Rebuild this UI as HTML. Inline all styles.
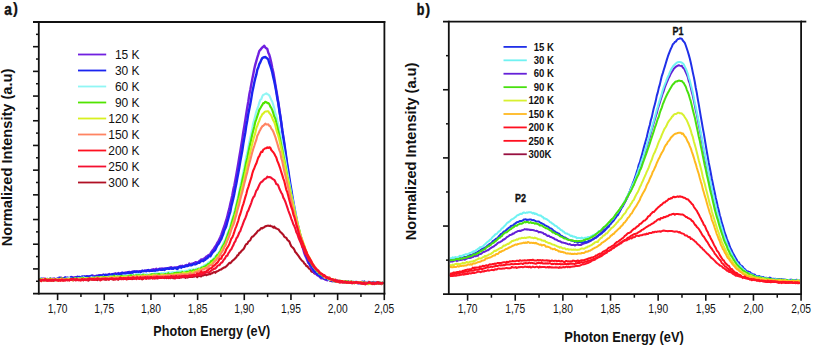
<!DOCTYPE html>
<html><head><meta charset="utf-8"><style>
html,body{margin:0;padding:0;background:#fff;}
svg{display:block;}
text{font-family:"Liberation Sans",sans-serif;}
</style></head><body>
<svg width="813" height="347" viewBox="0 0 813 347">
<rect width="813" height="347" fill="#fff"/>
<path d="M39.3,280.2 L40.3,280.3 L41.3,280.0 L42.3,279.8 L43.3,279.9 L44.3,279.7 L45.3,280.2 L46.3,280.7 L47.3,279.9 L48.3,279.9 L49.3,280.3 L50.3,280.3 L51.3,280.2 L52.3,279.7 L53.3,280.1 L54.3,280.4 L55.3,279.5 L56.3,279.9 L57.3,279.2 L58.3,279.5 L59.3,279.2 L60.3,279.9 L61.3,279.5 L62.3,280.2 L63.3,280.1 L64.3,279.9 L65.3,278.9 L66.3,279.7 L67.3,280.0 L68.3,280.0 L69.3,279.3 L70.3,279.7 L71.3,279.5 L72.3,279.6 L73.3,280.4 L74.3,279.5 L75.3,279.9 L76.3,280.3 L77.3,279.6 L78.3,279.8 L79.3,279.9 L80.3,279.8 L81.3,279.2 L82.3,279.8 L83.3,280.4 L84.3,279.0 L85.3,280.1 L86.3,279.8 L87.3,279.4 L88.3,280.6 L89.3,280.0 L90.3,279.1 L91.3,279.6 L92.3,279.8 L93.3,279.5 L94.3,279.9 L95.3,279.5 L96.3,279.8 L97.3,280.1 L98.3,279.2 L99.3,279.5 L100.3,279.2 L101.3,279.4 L102.3,278.8 L103.3,279.1 L104.3,279.2 L105.3,279.7 L106.3,279.8 L107.3,278.7 L108.3,278.9 L109.3,279.5 L110.3,278.3 L111.3,278.9 L112.3,279.1 L113.3,279.7 L114.3,279.4 L115.3,278.9 L116.3,278.9 L117.3,278.9 L118.3,279.7 L119.3,278.8 L120.3,278.8 L121.3,279.1 L122.3,278.8 L123.3,278.8 L124.3,278.3 L125.3,278.8 L126.3,278.6 L127.3,279.3 L128.3,279.0 L129.3,278.7 L130.3,279.0 L131.3,278.5 L132.3,279.1 L133.3,278.6 L134.3,278.8 L135.3,278.0 L136.3,278.7 L137.3,277.7 L138.3,277.5 L139.3,278.3 L140.3,278.0 L141.3,278.5 L142.3,279.4 L143.3,278.0 L144.3,278.0 L145.3,278.4 L146.3,278.5 L147.3,278.2 L148.3,278.1 L149.3,278.5 L150.3,278.4 L151.3,277.7 L152.3,278.1 L153.3,278.1 L154.3,277.6 L155.3,278.2 L156.3,277.7 L157.3,278.5 L158.3,278.1 L159.3,278.0 L160.3,277.7 L161.3,277.9 L162.3,277.0 L163.3,277.4 L164.3,278.1 L165.3,276.9 L166.3,278.2 L167.3,277.0 L168.3,278.2 L169.3,277.4 L170.3,278.1 L171.3,277.8 L172.3,277.0 L173.3,278.3 L174.3,278.3 L175.3,277.6 L176.3,277.5 L177.3,277.5 L178.3,277.1 L179.3,278.0 L180.3,277.3 L181.3,277.5 L182.3,277.1 L183.3,277.1 L184.3,276.8 L185.3,277.9 L186.3,277.2 L187.3,277.6 L188.3,277.2 L189.3,276.8 L190.3,276.9 L191.3,276.7 L192.3,276.9 L193.3,276.6 L194.3,276.6 L195.3,276.0 L196.3,276.2 L197.3,277.2 L198.3,276.0 L199.3,275.7 L200.3,276.2 L201.3,276.5 L202.3,275.1 L203.3,275.4 L204.3,275.1 L205.3,274.4 L206.3,275.3 L207.3,274.7 L208.3,274.5 L209.3,273.9 L210.3,274.1 L211.3,273.4 L212.3,273.2 L213.3,272.4 L214.3,272.0 L215.3,272.8 L216.3,271.5 L217.3,271.4 L218.3,270.8 L219.3,270.1 L220.3,269.6 L221.3,269.5 L222.3,268.5 L223.3,268.0 L224.3,267.4 L225.3,267.2 L226.3,266.3 L227.3,265.4 L228.3,264.1 L229.3,262.9 L230.3,263.1 L231.3,262.2 L232.3,260.8 L233.3,260.1 L234.3,259.2 L235.3,258.2 L236.3,257.2 L237.3,255.4 L238.3,255.2 L239.3,252.8 L240.3,252.6 L241.3,251.2 L242.3,250.1 L243.3,249.4 L244.3,247.9 L245.3,245.5 L246.3,244.0 L247.3,243.9 L248.3,241.8 L249.3,241.0 L250.3,240.2 L251.3,237.9 L252.3,236.5 L253.3,236.4 L254.3,235.2 L255.3,234.0 L256.3,233.1 L257.3,231.7 L258.3,230.5 L259.3,230.3 L260.3,229.1 L261.3,228.1 L262.3,228.4 L263.3,227.6 L264.3,227.3 L265.3,226.3 L266.3,226.1 L267.3,225.7 L268.3,225.6 L269.3,226.0 L270.3,225.6 L271.3,226.3 L272.3,226.5 L273.3,227.6 L274.3,226.5 L275.3,228.1 L276.3,228.3 L277.3,229.0 L278.3,229.2 L279.3,230.5 L280.3,232.0 L281.3,232.7 L282.3,233.8 L283.3,234.8 L284.3,236.7 L285.3,237.4 L286.3,237.7 L287.3,239.8 L288.3,240.6 L289.3,241.4 L290.3,244.0 L291.3,246.3 L292.3,247.2 L293.3,248.1 L294.3,249.6 L295.3,252.0 L296.3,253.0 L297.3,254.3 L298.3,255.7 L299.3,257.1 L300.3,258.7 L301.3,259.9 L302.3,261.0 L303.3,261.7 L304.3,263.6 L305.3,264.2 L306.3,266.1 L307.3,266.1 L308.3,267.6 L309.3,268.7 L310.3,269.0 L311.3,271.3 L312.3,272.0 L313.3,271.9 L314.3,273.3 L315.3,273.8 L316.3,273.1 L317.3,275.1 L318.3,275.5 L319.3,276.1 L320.3,276.2 L321.3,277.0 L322.3,277.5 L323.3,278.6 L324.3,278.6 L325.3,278.8 L326.3,279.8 L327.3,279.2 L328.3,279.6 L329.3,279.2 L330.3,281.0 L331.3,280.9 L332.3,281.1 L333.3,281.2 L334.3,281.2 L335.3,281.4 L336.3,281.3 L337.3,281.5 L338.3,281.7 L339.3,282.5 L340.3,282.2 L341.3,282.0 L342.3,281.9 L343.3,281.9 L344.3,283.0 L345.3,282.6 L346.3,282.5 L347.3,282.3 L348.3,282.1 L349.3,282.6 L350.3,283.0 L351.3,282.5 L352.3,282.6 L353.3,282.7 L354.3,282.9 L355.3,282.1 L356.3,282.8 L357.3,282.5 L358.3,283.3 L359.3,282.6 L360.3,283.3 L361.3,283.7 L362.3,282.9 L363.3,282.8 L364.3,283.2 L365.3,283.1 L366.3,282.7 L367.3,283.3 L368.3,284.1 L369.3,283.1 L370.3,283.1 L371.3,282.7 L372.3,283.4 L373.3,282.7 L374.3,282.8 L375.3,283.8 L376.3,282.9 L377.3,283.8 L378.3,284.0 L379.3,283.4 L380.3,283.6 L381.3,284.2 L382.3,283.3 L383.3,283.1" fill="none" stroke="#b01024" stroke-width="2.1" stroke-linejoin="round"/>
<path d="M39.3,278.7 L40.3,279.3 L41.3,279.9 L42.3,279.7 L43.3,278.8 L44.3,278.8 L45.3,278.9 L46.3,279.3 L47.3,279.0 L48.3,279.1 L49.3,279.1 L50.3,278.8 L51.3,278.9 L52.3,279.0 L53.3,278.8 L54.3,279.0 L55.3,279.6 L56.3,279.0 L57.3,278.7 L58.3,277.9 L59.3,278.7 L60.3,277.6 L61.3,277.8 L62.3,278.8 L63.3,278.7 L64.3,278.2 L65.3,277.5 L66.3,278.0 L67.3,277.8 L68.3,278.4 L69.3,279.0 L70.3,278.1 L71.3,277.5 L72.3,277.3 L73.3,277.7 L74.3,277.6 L75.3,277.1 L76.3,277.6 L77.3,277.0 L78.3,277.9 L79.3,277.8 L80.3,277.8 L81.3,277.0 L82.3,277.4 L83.3,277.0 L84.3,276.8 L85.3,276.7 L86.3,276.2 L87.3,276.1 L88.3,277.0 L89.3,276.5 L90.3,276.6 L91.3,276.8 L92.3,275.5 L93.3,275.8 L94.3,276.2 L95.3,276.2 L96.3,275.8 L97.3,276.3 L98.3,275.8 L99.3,275.1 L100.3,275.1 L101.3,275.8 L102.3,275.6 L103.3,274.4 L104.3,275.8 L105.3,275.3 L106.3,275.6 L107.3,274.7 L108.3,274.6 L109.3,274.1 L110.3,275.7 L111.3,274.4 L112.3,275.0 L113.3,273.9 L114.3,274.2 L115.3,273.3 L116.3,273.7 L117.3,274.2 L118.3,273.1 L119.3,274.1 L120.3,273.6 L121.3,272.9 L122.3,273.0 L123.3,272.9 L124.3,273.0 L125.3,272.7 L126.3,272.4 L127.3,272.6 L128.3,272.1 L129.3,271.9 L130.3,272.4 L131.3,272.7 L132.3,271.5 L133.3,272.1 L134.3,271.7 L135.3,271.4 L136.3,272.1 L137.3,271.4 L138.3,272.2 L139.3,271.1 L140.3,271.5 L141.3,271.1 L142.3,270.8 L143.3,271.3 L144.3,270.8 L145.3,271.0 L146.3,270.7 L147.3,270.1 L148.3,270.4 L149.3,270.4 L150.3,270.7 L151.3,269.8 L152.3,270.0 L153.3,269.2 L154.3,270.1 L155.3,269.3 L156.3,268.8 L157.3,269.5 L158.3,269.9 L159.3,268.7 L160.3,268.7 L161.3,268.8 L162.3,268.5 L163.3,269.1 L164.3,268.5 L165.3,268.4 L166.3,268.9 L167.3,268.1 L168.3,268.6 L169.3,267.8 L170.3,267.6 L171.3,267.2 L172.3,268.7 L173.3,267.6 L174.3,267.7 L175.3,267.5 L176.3,267.4 L177.3,267.2 L178.3,267.9 L179.3,266.4 L180.3,266.0 L181.3,266.1 L182.3,265.8 L183.3,266.5 L184.3,266.4 L185.3,265.4 L186.3,265.0 L187.3,265.2 L188.3,265.7 L189.3,263.6 L190.3,264.8 L191.3,263.8 L192.3,264.5 L193.3,263.2 L194.3,263.2 L195.3,262.3 L196.3,262.2 L197.3,262.8 L198.3,262.2 L199.3,261.1 L200.3,260.4 L201.3,259.4 L202.3,259.6 L203.3,259.1 L204.3,258.4 L205.3,257.7 L206.3,256.5 L207.3,256.1 L208.3,255.3 L209.3,254.9 L210.3,254.1 L211.3,252.1 L212.3,250.6 L213.3,249.6 L214.3,248.0 L215.3,246.4 L216.3,245.0 L217.3,242.8 L218.3,241.6 L219.3,239.2 L220.3,237.2 L221.3,234.6 L222.3,231.8 L223.3,228.9 L224.3,226.3 L225.3,223.0 L226.3,220.0 L227.3,216.4 L228.3,212.0 L229.3,208.7 L230.3,203.8 L231.3,199.7 L232.3,195.2 L233.3,189.6 L234.3,185.5 L235.3,180.3 L236.3,174.7 L237.3,168.9 L238.3,163.1 L239.3,156.9 L240.3,151.2 L241.3,144.9 L242.3,138.9 L243.3,132.0 L244.3,126.3 L245.3,119.9 L246.3,113.5 L247.3,107.2 L248.3,101.5 L249.3,94.6 L250.3,89.8 L251.3,84.1 L252.3,78.9 L253.3,73.9 L254.3,68.8 L255.3,64.6 L256.3,61.1 L257.3,57.5 L258.3,54.4 L259.3,51.0 L260.3,49.9 L261.3,48.6 L262.3,47.5 L263.3,46.6 L264.3,45.8 L265.3,47.5 L266.3,48.2 L267.3,49.0 L268.3,52.7 L269.3,54.8 L270.3,58.4 L271.3,62.7 L272.3,68.0 L273.3,72.2 L274.3,77.9 L275.3,84.3 L276.3,90.3 L277.3,95.9 L278.3,102.5 L279.3,108.9 L280.3,116.1 L281.3,123.7 L282.3,130.9 L283.3,138.1 L284.3,145.7 L285.3,152.1 L286.3,159.6 L287.3,167.0 L288.3,173.8 L289.3,180.8 L290.3,187.0 L291.3,193.1 L292.3,199.5 L293.3,204.8 L294.3,210.1 L295.3,216.5 L296.3,221.4 L297.3,226.4 L298.3,230.0 L299.3,234.9 L300.3,238.9 L301.3,242.5 L302.3,245.4 L303.3,249.5 L304.3,253.1 L305.3,255.7 L306.3,257.8 L307.3,260.4 L308.3,262.9 L309.3,263.3 L310.3,266.3 L311.3,268.2 L312.3,269.7 L313.3,271.5 L314.3,272.4 L315.3,273.1 L316.3,274.1 L317.3,275.2 L318.3,275.4 L319.3,276.3 L320.3,277.3 L321.3,278.3 L322.3,277.9 L323.3,278.3 L324.3,278.8 L325.3,279.7 L326.3,279.4 L327.3,280.3 L328.3,279.5 L329.3,280.0 L330.3,280.2 L331.3,280.8 L332.3,281.1 L333.3,280.1 L334.3,280.5 L335.3,281.2 L336.3,280.8 L337.3,280.5 L338.3,281.8 L339.3,281.6 L340.3,281.7 L341.3,281.3 L342.3,282.1 L343.3,281.6 L344.3,282.2 L345.3,281.4 L346.3,281.5 L347.3,282.0 L348.3,281.6 L349.3,282.3 L350.3,282.2 L351.3,281.7 L352.3,282.2 L353.3,282.0 L354.3,282.6 L355.3,282.0 L356.3,282.1 L357.3,282.9 L358.3,283.4 L359.3,283.3 L360.3,282.5 L361.3,282.6 L362.3,283.2 L363.3,282.5 L364.3,282.2 L365.3,282.7 L366.3,282.9 L367.3,282.3 L368.3,282.0 L369.3,282.1 L370.3,283.1 L371.3,282.5 L372.3,282.8 L373.3,283.0 L374.3,283.2 L375.3,282.8 L376.3,283.2 L377.3,282.6 L378.3,282.9 L379.3,282.6 L380.3,283.6 L381.3,283.1 L382.3,282.8 L383.3,283.0" fill="none" stroke="#7020e0" stroke-width="2.4" stroke-linejoin="round"/>
<path d="M39.3,279.3 L40.3,279.7 L41.3,278.6 L42.3,278.8 L43.3,279.1 L44.3,280.4 L45.3,279.6 L46.3,279.1 L47.3,279.5 L48.3,280.0 L49.3,279.0 L50.3,278.9 L51.3,279.5 L52.3,279.2 L53.3,279.2 L54.3,278.7 L55.3,279.7 L56.3,279.6 L57.3,279.0 L58.3,279.0 L59.3,277.7 L60.3,278.9 L61.3,278.5 L62.3,278.7 L63.3,278.8 L64.3,278.3 L65.3,277.6 L66.3,278.5 L67.3,277.9 L68.3,278.0 L69.3,277.9 L70.3,277.9 L71.3,277.0 L72.3,278.5 L73.3,278.0 L74.3,278.3 L75.3,278.7 L76.3,277.7 L77.3,276.8 L78.3,277.2 L79.3,276.9 L80.3,277.2 L81.3,277.4 L82.3,276.4 L83.3,277.4 L84.3,276.4 L85.3,277.2 L86.3,276.9 L87.3,276.7 L88.3,276.8 L89.3,276.5 L90.3,276.4 L91.3,275.8 L92.3,276.5 L93.3,277.2 L94.3,277.2 L95.3,276.8 L96.3,276.5 L97.3,275.7 L98.3,276.6 L99.3,275.8 L100.3,275.7 L101.3,275.5 L102.3,275.6 L103.3,275.3 L104.3,275.4 L105.3,274.8 L106.3,275.0 L107.3,276.1 L108.3,275.0 L109.3,274.8 L110.3,275.0 L111.3,275.0 L112.3,274.1 L113.3,274.4 L114.3,274.8 L115.3,274.4 L116.3,274.3 L117.3,274.8 L118.3,273.7 L119.3,273.9 L120.3,273.6 L121.3,274.4 L122.3,272.7 L123.3,273.2 L124.3,273.1 L125.3,273.6 L126.3,273.4 L127.3,273.7 L128.3,272.2 L129.3,273.2 L130.3,272.6 L131.3,272.3 L132.3,272.8 L133.3,272.0 L134.3,271.4 L135.3,272.1 L136.3,271.4 L137.3,271.7 L138.3,272.1 L139.3,272.0 L140.3,272.4 L141.3,271.5 L142.3,270.8 L143.3,271.1 L144.3,270.9 L145.3,270.7 L146.3,271.3 L147.3,270.7 L148.3,270.0 L149.3,271.1 L150.3,270.7 L151.3,270.8 L152.3,270.6 L153.3,270.7 L154.3,270.4 L155.3,270.8 L156.3,270.3 L157.3,270.2 L158.3,270.1 L159.3,269.2 L160.3,269.7 L161.3,269.6 L162.3,269.7 L163.3,268.9 L164.3,270.1 L165.3,269.3 L166.3,268.6 L167.3,268.3 L168.3,268.8 L169.3,268.8 L170.3,268.4 L171.3,268.7 L172.3,268.2 L173.3,268.7 L174.3,268.0 L175.3,268.1 L176.3,268.5 L177.3,269.1 L178.3,267.3 L179.3,267.4 L180.3,267.1 L181.3,267.7 L182.3,266.6 L183.3,266.8 L184.3,266.8 L185.3,266.2 L186.3,266.0 L187.3,266.0 L188.3,265.1 L189.3,265.1 L190.3,265.3 L191.3,265.3 L192.3,264.9 L193.3,263.9 L194.3,264.2 L195.3,264.4 L196.3,264.0 L197.3,263.3 L198.3,262.6 L199.3,262.8 L200.3,261.8 L201.3,261.1 L202.3,260.7 L203.3,261.2 L204.3,260.0 L205.3,259.8 L206.3,258.4 L207.3,258.3 L208.3,256.8 L209.3,256.1 L210.3,256.4 L211.3,254.6 L212.3,252.9 L213.3,251.9 L214.3,250.8 L215.3,249.8 L216.3,247.6 L217.3,245.4 L218.3,244.3 L219.3,242.6 L220.3,240.6 L221.3,239.0 L222.3,236.3 L223.3,234.0 L224.3,230.5 L225.3,228.5 L226.3,226.0 L227.3,222.2 L228.3,218.6 L229.3,214.9 L230.3,211.8 L231.3,206.5 L232.3,202.6 L233.3,198.4 L234.3,193.9 L235.3,188.5 L236.3,183.8 L237.3,178.3 L238.3,173.1 L239.3,167.5 L240.3,161.3 L241.3,156.1 L242.3,150.6 L243.3,143.8 L244.3,138.1 L245.3,132.5 L246.3,125.7 L247.3,120.3 L248.3,113.9 L249.3,109.1 L250.3,104.0 L251.3,98.4 L252.3,92.1 L253.3,87.6 L254.3,82.6 L255.3,78.2 L256.3,74.7 L257.3,69.8 L258.3,67.5 L259.3,64.2 L260.3,62.4 L261.3,59.9 L262.3,58.1 L263.3,57.5 L264.3,57.3 L265.3,57.0 L266.3,57.8 L267.3,58.5 L268.3,59.6 L269.3,63.2 L270.3,65.9 L271.3,69.0 L272.3,72.7 L273.3,77.4 L274.3,81.4 L275.3,86.4 L276.3,92.1 L277.3,98.4 L278.3,103.3 L279.3,110.7 L280.3,116.3 L281.3,122.7 L282.3,130.5 L283.3,136.7 L284.3,143.0 L285.3,150.3 L286.3,157.7 L287.3,164.6 L288.3,170.5 L289.3,177.4 L290.3,183.9 L291.3,189.6 L292.3,196.0 L293.3,201.7 L294.3,207.1 L295.3,212.4 L296.3,217.8 L297.3,222.7 L298.3,227.0 L299.3,231.5 L300.3,236.3 L301.3,239.7 L302.3,243.7 L303.3,247.2 L304.3,250.1 L305.3,253.7 L306.3,255.0 L307.3,258.3 L308.3,260.0 L309.3,263.1 L310.3,265.0 L311.3,265.1 L312.3,267.1 L313.3,269.3 L314.3,270.7 L315.3,271.9 L316.3,272.6 L317.3,273.8 L318.3,274.8 L319.3,275.2 L320.3,276.4 L321.3,275.6 L322.3,277.4 L323.3,277.2 L324.3,278.5 L325.3,278.4 L326.3,278.5 L327.3,279.4 L328.3,279.1 L329.3,279.3 L330.3,279.3 L331.3,280.2 L332.3,280.6 L333.3,281.0 L334.3,280.6 L335.3,281.3 L336.3,281.0 L337.3,281.1 L338.3,281.5 L339.3,281.8 L340.3,281.2 L341.3,281.4 L342.3,281.5 L343.3,281.7 L344.3,281.3 L345.3,282.2 L346.3,281.7 L347.3,282.1 L348.3,281.6 L349.3,282.2 L350.3,282.2 L351.3,281.9 L352.3,283.1 L353.3,282.4 L354.3,283.0 L355.3,282.7 L356.3,282.0 L357.3,282.2 L358.3,282.6 L359.3,282.5 L360.3,282.5 L361.3,282.4 L362.3,281.7 L363.3,282.5 L364.3,281.6 L365.3,282.8 L366.3,282.4 L367.3,282.4 L368.3,282.7 L369.3,282.9 L370.3,282.2 L371.3,282.1 L372.3,282.4 L373.3,282.0 L374.3,282.5 L375.3,283.7 L376.3,282.5 L377.3,283.3 L378.3,282.4 L379.3,283.2 L380.3,282.9 L381.3,283.1 L382.3,283.4 L383.3,283.9" fill="none" stroke="#1a24f0" stroke-width="2.4" stroke-linejoin="round"/>
<path d="M39.3,279.8 L40.3,279.8 L41.3,279.3 L42.3,279.9 L43.3,279.6 L44.3,280.0 L45.3,279.6 L46.3,280.4 L47.3,278.7 L48.3,279.4 L49.3,279.9 L50.3,279.4 L51.3,279.1 L52.3,279.4 L53.3,278.8 L54.3,279.5 L55.3,280.5 L56.3,279.9 L57.3,278.8 L58.3,278.9 L59.3,279.1 L60.3,279.7 L61.3,278.8 L62.3,278.9 L63.3,279.6 L64.3,279.5 L65.3,278.9 L66.3,278.5 L67.3,278.3 L68.3,278.7 L69.3,277.9 L70.3,279.2 L71.3,278.6 L72.3,279.0 L73.3,279.6 L74.3,279.3 L75.3,278.2 L76.3,279.0 L77.3,279.1 L78.3,278.2 L79.3,278.1 L80.3,278.4 L81.3,277.7 L82.3,279.0 L83.3,277.3 L84.3,277.8 L85.3,278.1 L86.3,278.1 L87.3,278.2 L88.3,278.2 L89.3,277.9 L90.3,278.5 L91.3,277.0 L92.3,277.9 L93.3,277.5 L94.3,277.8 L95.3,277.8 L96.3,277.2 L97.3,277.3 L98.3,277.9 L99.3,277.6 L100.3,277.1 L101.3,278.2 L102.3,278.3 L103.3,276.5 L104.3,277.3 L105.3,278.2 L106.3,277.4 L107.3,277.0 L108.3,276.8 L109.3,276.6 L110.3,276.7 L111.3,276.4 L112.3,277.0 L113.3,276.4 L114.3,276.3 L115.3,275.9 L116.3,276.3 L117.3,275.9 L118.3,276.1 L119.3,276.6 L120.3,276.2 L121.3,276.2 L122.3,276.1 L123.3,275.9 L124.3,275.7 L125.3,275.6 L126.3,276.0 L127.3,275.1 L128.3,276.1 L129.3,275.5 L130.3,275.0 L131.3,275.1 L132.3,274.9 L133.3,275.2 L134.3,274.8 L135.3,275.5 L136.3,274.6 L137.3,273.9 L138.3,274.5 L139.3,273.9 L140.3,274.7 L141.3,275.1 L142.3,274.8 L143.3,273.9 L144.3,274.1 L145.3,275.2 L146.3,274.4 L147.3,274.2 L148.3,274.6 L149.3,275.2 L150.3,274.6 L151.3,274.0 L152.3,274.1 L153.3,274.1 L154.3,273.5 L155.3,273.2 L156.3,273.7 L157.3,273.2 L158.3,273.5 L159.3,273.5 L160.3,274.4 L161.3,272.9 L162.3,273.2 L163.3,273.1 L164.3,273.3 L165.3,273.5 L166.3,272.8 L167.3,272.5 L168.3,272.1 L169.3,272.3 L170.3,272.9 L171.3,272.6 L172.3,272.1 L173.3,272.3 L174.3,272.4 L175.3,272.5 L176.3,271.9 L177.3,272.0 L178.3,271.2 L179.3,271.3 L180.3,272.5 L181.3,270.7 L182.3,271.4 L183.3,271.5 L184.3,271.1 L185.3,270.7 L186.3,270.9 L187.3,270.8 L188.3,270.6 L189.3,269.6 L190.3,270.2 L191.3,269.6 L192.3,269.5 L193.3,269.7 L194.3,269.6 L195.3,269.4 L196.3,268.5 L197.3,268.9 L198.3,268.6 L199.3,268.3 L200.3,268.0 L201.3,266.9 L202.3,266.5 L203.3,266.5 L204.3,265.0 L205.3,265.1 L206.3,264.2 L207.3,263.7 L208.3,262.4 L209.3,262.0 L210.3,261.6 L211.3,261.2 L212.3,260.4 L213.3,258.9 L214.3,257.8 L215.3,256.4 L216.3,255.7 L217.3,254.1 L218.3,253.1 L219.3,252.1 L220.3,249.6 L221.3,247.2 L222.3,245.6 L223.3,243.3 L224.3,241.3 L225.3,240.1 L226.3,237.2 L227.3,233.8 L228.3,232.0 L229.3,229.4 L230.3,225.6 L231.3,222.2 L232.3,218.9 L233.3,215.6 L234.3,212.0 L235.3,208.4 L236.3,204.3 L237.3,200.1 L238.3,195.8 L239.3,191.0 L240.3,185.4 L241.3,181.3 L242.3,176.7 L243.3,171.6 L244.3,167.2 L245.3,161.7 L246.3,156.4 L247.3,152.6 L248.3,147.3 L249.3,142.2 L250.3,137.8 L251.3,133.2 L252.3,128.3 L253.3,122.7 L254.3,119.4 L255.3,115.6 L256.3,111.6 L257.3,108.8 L258.3,106.1 L259.3,102.6 L260.3,99.8 L261.3,99.2 L262.3,96.3 L263.3,94.7 L264.3,94.4 L265.3,93.9 L266.3,93.3 L267.3,94.3 L268.3,94.5 L269.3,95.5 L270.3,97.6 L271.3,100.0 L272.3,101.8 L273.3,105.1 L274.3,108.2 L275.3,113.1 L276.3,115.4 L277.3,120.5 L278.3,124.4 L279.3,129.0 L280.3,134.3 L281.3,139.5 L282.3,144.9 L283.3,149.8 L284.3,154.9 L285.3,160.4 L286.3,166.3 L287.3,171.9 L288.3,177.7 L289.3,182.7 L290.3,188.3 L291.3,193.8 L292.3,198.3 L293.3,202.6 L294.3,207.6 L295.3,212.2 L296.3,218.0 L297.3,221.3 L298.3,226.4 L299.3,230.1 L300.3,234.4 L301.3,237.7 L302.3,240.6 L303.3,243.7 L304.3,246.9 L305.3,249.7 L306.3,252.1 L307.3,254.8 L308.3,257.8 L309.3,258.5 L310.3,261.3 L311.3,262.7 L312.3,264.8 L313.3,266.7 L314.3,267.7 L315.3,269.4 L316.3,269.6 L317.3,271.9 L318.3,272.2 L319.3,273.7 L320.3,274.3 L321.3,273.8 L322.3,275.4 L323.3,276.4 L324.3,277.6 L325.3,277.6 L326.3,278.0 L327.3,277.7 L328.3,279.4 L329.3,279.9 L330.3,279.4 L331.3,279.6 L332.3,279.3 L333.3,280.6 L334.3,281.7 L335.3,281.0 L336.3,281.4 L337.3,281.2 L338.3,280.7 L339.3,281.9 L340.3,280.9 L341.3,281.4 L342.3,281.8 L343.3,282.1 L344.3,282.0 L345.3,282.1 L346.3,281.7 L347.3,281.5 L348.3,282.2 L349.3,281.9 L350.3,281.7 L351.3,281.7 L352.3,282.1 L353.3,281.6 L354.3,281.9 L355.3,281.8 L356.3,282.6 L357.3,282.8 L358.3,283.5 L359.3,282.0 L360.3,282.4 L361.3,283.1 L362.3,282.7 L363.3,282.6 L364.3,283.6 L365.3,282.7 L366.3,282.4 L367.3,282.3 L368.3,283.1 L369.3,283.1 L370.3,282.4 L371.3,282.6 L372.3,283.3 L373.3,283.3 L374.3,282.8 L375.3,283.4 L376.3,283.4 L377.3,282.3 L378.3,283.0 L379.3,283.4 L380.3,282.9 L381.3,282.3 L382.3,283.1 L383.3,283.6" fill="none" stroke="#90f6f4" stroke-width="2.1" stroke-linejoin="round"/>
<path d="M39.3,280.5 L40.3,278.8 L41.3,281.0 L42.3,279.3 L43.3,280.2 L44.3,280.3 L45.3,280.2 L46.3,279.8 L47.3,279.2 L48.3,280.0 L49.3,279.3 L50.3,278.5 L51.3,280.9 L52.3,279.9 L53.3,280.4 L54.3,279.1 L55.3,280.2 L56.3,280.2 L57.3,280.2 L58.3,279.5 L59.3,278.9 L60.3,279.3 L61.3,278.4 L62.3,278.6 L63.3,279.4 L64.3,278.9 L65.3,279.2 L66.3,279.2 L67.3,280.1 L68.3,279.8 L69.3,279.1 L70.3,279.7 L71.3,278.7 L72.3,278.9 L73.3,279.4 L74.3,278.4 L75.3,278.8 L76.3,278.3 L77.3,278.9 L78.3,279.6 L79.3,278.4 L80.3,278.8 L81.3,278.3 L82.3,278.1 L83.3,278.1 L84.3,279.2 L85.3,279.6 L86.3,278.7 L87.3,278.1 L88.3,278.7 L89.3,278.2 L90.3,278.7 L91.3,278.4 L92.3,278.3 L93.3,278.4 L94.3,277.8 L95.3,277.9 L96.3,277.2 L97.3,277.8 L98.3,277.3 L99.3,277.8 L100.3,277.4 L101.3,277.8 L102.3,277.9 L103.3,277.0 L104.3,277.2 L105.3,277.1 L106.3,277.8 L107.3,278.2 L108.3,277.7 L109.3,277.1 L110.3,277.9 L111.3,276.5 L112.3,277.8 L113.3,276.8 L114.3,275.7 L115.3,278.1 L116.3,277.6 L117.3,276.4 L118.3,276.8 L119.3,276.6 L120.3,276.7 L121.3,275.9 L122.3,276.2 L123.3,276.7 L124.3,276.5 L125.3,276.9 L126.3,276.3 L127.3,277.3 L128.3,275.8 L129.3,276.2 L130.3,275.2 L131.3,275.4 L132.3,276.5 L133.3,275.4 L134.3,276.0 L135.3,275.7 L136.3,275.2 L137.3,275.5 L138.3,275.3 L139.3,275.3 L140.3,275.8 L141.3,275.7 L142.3,275.1 L143.3,274.8 L144.3,275.3 L145.3,275.1 L146.3,275.5 L147.3,276.2 L148.3,275.3 L149.3,274.9 L150.3,274.8 L151.3,274.4 L152.3,274.3 L153.3,274.2 L154.3,274.4 L155.3,274.4 L156.3,274.8 L157.3,274.3 L158.3,274.3 L159.3,273.8 L160.3,275.0 L161.3,274.5 L162.3,275.0 L163.3,274.5 L164.3,274.7 L165.3,273.9 L166.3,274.2 L167.3,275.1 L168.3,273.2 L169.3,274.2 L170.3,274.4 L171.3,273.8 L172.3,273.8 L173.3,274.0 L174.3,273.0 L175.3,273.4 L176.3,272.8 L177.3,272.8 L178.3,272.7 L179.3,272.8 L180.3,272.8 L181.3,272.9 L182.3,271.9 L183.3,273.3 L184.3,272.8 L185.3,272.5 L186.3,271.8 L187.3,271.8 L188.3,271.9 L189.3,271.7 L190.3,270.5 L191.3,271.4 L192.3,272.2 L193.3,269.8 L194.3,270.8 L195.3,270.3 L196.3,269.8 L197.3,270.2 L198.3,268.7 L199.3,268.9 L200.3,269.2 L201.3,268.0 L202.3,267.5 L203.3,267.2 L204.3,266.5 L205.3,266.9 L206.3,265.2 L207.3,265.4 L208.3,263.7 L209.3,263.9 L210.3,262.8 L211.3,260.8 L212.3,261.1 L213.3,259.6 L214.3,258.9 L215.3,258.7 L216.3,256.2 L217.3,255.0 L218.3,254.7 L219.3,252.6 L220.3,251.7 L221.3,249.4 L222.3,247.0 L223.3,245.4 L224.3,243.9 L225.3,241.5 L226.3,238.7 L227.3,236.2 L228.3,233.4 L229.3,230.4 L230.3,228.6 L231.3,224.5 L232.3,220.7 L233.3,217.6 L234.3,214.5 L235.3,210.7 L236.3,206.4 L237.3,202.2 L238.3,198.3 L239.3,193.2 L240.3,189.0 L241.3,185.5 L242.3,180.3 L243.3,176.0 L244.3,171.7 L245.3,166.7 L246.3,161.7 L247.3,158.0 L248.3,152.6 L249.3,147.6 L250.3,143.6 L251.3,139.0 L252.3,134.2 L253.3,130.5 L254.3,126.5 L255.3,121.9 L256.3,119.3 L257.3,116.1 L258.3,113.1 L259.3,109.9 L260.3,108.3 L261.3,106.5 L262.3,104.9 L263.3,103.1 L264.3,103.1 L265.3,101.7 L266.3,102.1 L267.3,103.1 L268.3,103.0 L269.3,104.2 L270.3,106.5 L271.3,107.8 L272.3,110.2 L273.3,113.2 L274.3,116.6 L275.3,118.5 L276.3,122.8 L277.3,126.7 L278.3,130.9 L279.3,135.4 L280.3,140.1 L281.3,145.4 L282.3,149.8 L283.3,155.3 L284.3,160.5 L285.3,165.2 L286.3,170.8 L287.3,176.7 L288.3,181.2 L289.3,185.9 L290.3,191.2 L291.3,195.8 L292.3,201.2 L293.3,206.2 L294.3,210.0 L295.3,214.8 L296.3,219.7 L297.3,223.1 L298.3,227.3 L299.3,230.6 L300.3,234.3 L301.3,237.9 L302.3,242.3 L303.3,244.2 L304.3,247.1 L305.3,249.8 L306.3,252.5 L307.3,255.3 L308.3,257.3 L309.3,260.3 L310.3,261.4 L311.3,263.7 L312.3,264.9 L313.3,266.5 L314.3,267.0 L315.3,268.9 L316.3,270.2 L317.3,271.2 L318.3,271.4 L319.3,273.6 L320.3,273.9 L321.3,274.7 L322.3,275.5 L323.3,276.1 L324.3,277.0 L325.3,276.8 L326.3,277.4 L327.3,278.4 L328.3,278.8 L329.3,278.9 L330.3,279.1 L331.3,279.3 L332.3,279.9 L333.3,280.8 L334.3,280.0 L335.3,281.3 L336.3,281.2 L337.3,280.8 L338.3,281.5 L339.3,280.7 L340.3,280.7 L341.3,281.0 L342.3,281.5 L343.3,281.6 L344.3,281.7 L345.3,282.0 L346.3,281.1 L347.3,282.4 L348.3,281.6 L349.3,282.0 L350.3,282.1 L351.3,281.9 L352.3,281.8 L353.3,282.0 L354.3,282.5 L355.3,282.8 L356.3,282.9 L357.3,282.2 L358.3,282.3 L359.3,282.3 L360.3,283.0 L361.3,281.9 L362.3,283.4 L363.3,282.6 L364.3,282.5 L365.3,283.1 L366.3,283.4 L367.3,283.1 L368.3,283.4 L369.3,283.1 L370.3,283.6 L371.3,283.6 L372.3,283.0 L373.3,283.7 L374.3,283.2 L375.3,283.2 L376.3,282.7 L377.3,283.0 L378.3,283.5 L379.3,282.6 L380.3,283.5 L381.3,283.4 L382.3,283.4 L383.3,282.3" fill="none" stroke="#50e400" stroke-width="2.1" stroke-linejoin="round"/>
<path d="M39.3,279.9 L40.3,280.2 L41.3,279.5 L42.3,279.9 L43.3,278.8 L44.3,280.1 L45.3,279.5 L46.3,280.2 L47.3,279.0 L48.3,280.1 L49.3,279.7 L50.3,280.1 L51.3,279.3 L52.3,279.4 L53.3,280.7 L54.3,279.3 L55.3,279.4 L56.3,279.5 L57.3,279.2 L58.3,280.1 L59.3,280.4 L60.3,279.3 L61.3,278.8 L62.3,280.1 L63.3,280.0 L64.3,279.8 L65.3,280.0 L66.3,279.0 L67.3,279.3 L68.3,278.8 L69.3,278.7 L70.3,279.8 L71.3,279.0 L72.3,280.3 L73.3,279.3 L74.3,278.9 L75.3,279.5 L76.3,280.0 L77.3,279.3 L78.3,278.5 L79.3,279.2 L80.3,279.6 L81.3,278.8 L82.3,278.6 L83.3,279.4 L84.3,278.9 L85.3,278.3 L86.3,278.6 L87.3,278.4 L88.3,278.8 L89.3,278.7 L90.3,279.1 L91.3,278.9 L92.3,277.8 L93.3,278.7 L94.3,278.9 L95.3,278.6 L96.3,278.8 L97.3,278.1 L98.3,277.9 L99.3,278.7 L100.3,277.7 L101.3,277.2 L102.3,278.6 L103.3,277.7 L104.3,277.9 L105.3,277.3 L106.3,277.3 L107.3,277.3 L108.3,277.7 L109.3,277.9 L110.3,276.7 L111.3,278.0 L112.3,277.1 L113.3,277.1 L114.3,277.8 L115.3,277.4 L116.3,276.7 L117.3,278.2 L118.3,276.9 L119.3,277.4 L120.3,277.3 L121.3,277.8 L122.3,276.9 L123.3,277.5 L124.3,276.7 L125.3,277.5 L126.3,276.6 L127.3,276.7 L128.3,277.6 L129.3,276.9 L130.3,276.7 L131.3,277.6 L132.3,276.7 L133.3,276.2 L134.3,276.8 L135.3,275.9 L136.3,276.9 L137.3,276.9 L138.3,276.0 L139.3,275.9 L140.3,276.3 L141.3,276.1 L142.3,275.6 L143.3,276.3 L144.3,275.1 L145.3,275.7 L146.3,275.7 L147.3,275.7 L148.3,275.9 L149.3,275.2 L150.3,275.9 L151.3,275.5 L152.3,275.3 L153.3,274.9 L154.3,275.0 L155.3,275.6 L156.3,275.0 L157.3,275.4 L158.3,275.8 L159.3,275.7 L160.3,275.9 L161.3,275.0 L162.3,274.6 L163.3,275.5 L164.3,275.1 L165.3,275.4 L166.3,274.9 L167.3,275.4 L168.3,275.1 L169.3,275.0 L170.3,274.9 L171.3,274.7 L172.3,274.6 L173.3,274.5 L174.3,274.8 L175.3,274.1 L176.3,275.0 L177.3,274.1 L178.3,274.5 L179.3,273.9 L180.3,273.7 L181.3,274.7 L182.3,273.5 L183.3,272.9 L184.3,273.1 L185.3,273.1 L186.3,274.1 L187.3,273.1 L188.3,273.2 L189.3,272.2 L190.3,272.6 L191.3,272.6 L192.3,272.9 L193.3,271.5 L194.3,271.9 L195.3,271.5 L196.3,270.6 L197.3,270.8 L198.3,270.4 L199.3,269.1 L200.3,270.1 L201.3,269.7 L202.3,268.8 L203.3,268.0 L204.3,268.8 L205.3,267.7 L206.3,267.5 L207.3,267.1 L208.3,265.6 L209.3,265.5 L210.3,264.3 L211.3,263.6 L212.3,262.7 L213.3,261.8 L214.3,261.3 L215.3,259.8 L216.3,258.5 L217.3,257.3 L218.3,256.2 L219.3,254.3 L220.3,252.9 L221.3,251.5 L222.3,249.5 L223.3,247.9 L224.3,245.7 L225.3,244.8 L226.3,242.2 L227.3,239.4 L228.3,236.7 L229.3,235.1 L230.3,231.4 L231.3,228.3 L232.3,225.4 L233.3,222.1 L234.3,219.3 L235.3,215.1 L236.3,212.4 L237.3,207.3 L238.3,204.1 L239.3,199.3 L240.3,196.4 L241.3,191.2 L242.3,187.1 L243.3,183.1 L244.3,178.9 L245.3,173.4 L246.3,169.3 L247.3,164.3 L248.3,160.6 L249.3,156.1 L250.3,151.7 L251.3,147.4 L252.3,143.5 L253.3,139.4 L254.3,136.2 L255.3,133.1 L256.3,128.2 L257.3,125.9 L258.3,122.9 L259.3,120.7 L260.3,117.8 L261.3,116.2 L262.3,114.1 L263.3,113.5 L264.3,112.3 L265.3,111.5 L266.3,111.5 L267.3,111.3 L268.3,111.2 L269.3,113.0 L270.3,114.2 L271.3,115.6 L272.3,118.1 L273.3,120.5 L274.3,122.1 L275.3,125.3 L276.3,129.6 L277.3,133.1 L278.3,135.9 L279.3,139.7 L280.3,144.2 L281.3,148.6 L282.3,152.6 L283.3,158.0 L284.3,162.1 L285.3,167.0 L286.3,172.8 L287.3,176.9 L288.3,182.0 L289.3,187.1 L290.3,192.0 L291.3,196.2 L292.3,201.0 L293.3,205.1 L294.3,210.7 L295.3,214.5 L296.3,217.8 L297.3,222.3 L298.3,226.5 L299.3,230.1 L300.3,234.2 L301.3,237.4 L302.3,239.8 L303.3,243.0 L304.3,245.4 L305.3,248.8 L306.3,251.3 L307.3,254.9 L308.3,255.9 L309.3,257.1 L310.3,259.7 L311.3,261.9 L312.3,263.0 L313.3,264.8 L314.3,266.5 L315.3,268.1 L316.3,269.2 L317.3,270.0 L318.3,271.8 L319.3,272.2 L320.3,273.1 L321.3,273.6 L322.3,274.6 L323.3,276.0 L324.3,275.6 L325.3,276.9 L326.3,277.7 L327.3,277.7 L328.3,278.5 L329.3,278.3 L330.3,279.7 L331.3,280.0 L332.3,279.9 L333.3,279.3 L334.3,279.8 L335.3,281.0 L336.3,281.5 L337.3,281.1 L338.3,281.7 L339.3,281.0 L340.3,281.3 L341.3,281.6 L342.3,281.9 L343.3,281.1 L344.3,282.3 L345.3,282.6 L346.3,281.6 L347.3,281.5 L348.3,282.4 L349.3,282.0 L350.3,281.3 L351.3,282.8 L352.3,282.5 L353.3,282.3 L354.3,283.5 L355.3,282.7 L356.3,282.3 L357.3,282.7 L358.3,282.3 L359.3,282.4 L360.3,283.0 L361.3,282.6 L362.3,282.7 L363.3,283.6 L364.3,283.3 L365.3,283.3 L366.3,283.2 L367.3,283.2 L368.3,283.7 L369.3,283.0 L370.3,283.9 L371.3,282.7 L372.3,283.0 L373.3,282.5 L374.3,283.0 L375.3,283.4 L376.3,283.8 L377.3,282.9 L378.3,283.2 L379.3,283.1 L380.3,282.9 L381.3,282.7 L382.3,283.3 L383.3,282.5" fill="none" stroke="#d8f020" stroke-width="2.1" stroke-linejoin="round"/>
<path d="M39.3,280.0 L40.3,280.0 L41.3,279.7 L42.3,279.5 L43.3,279.3 L44.3,280.8 L45.3,279.3 L46.3,280.6 L47.3,280.2 L48.3,279.7 L49.3,279.4 L50.3,280.3 L51.3,280.6 L52.3,279.4 L53.3,279.7 L54.3,280.3 L55.3,280.0 L56.3,280.7 L57.3,279.5 L58.3,280.0 L59.3,279.2 L60.3,280.7 L61.3,279.4 L62.3,278.7 L63.3,279.6 L64.3,279.6 L65.3,280.5 L66.3,279.5 L67.3,279.6 L68.3,279.8 L69.3,280.3 L70.3,279.5 L71.3,280.0 L72.3,279.7 L73.3,279.3 L74.3,279.5 L75.3,279.4 L76.3,279.0 L77.3,279.9 L78.3,278.7 L79.3,279.8 L80.3,279.7 L81.3,279.2 L82.3,278.9 L83.3,279.1 L84.3,279.4 L85.3,279.5 L86.3,279.2 L87.3,279.5 L88.3,278.8 L89.3,279.1 L90.3,278.3 L91.3,279.3 L92.3,279.0 L93.3,278.7 L94.3,279.3 L95.3,279.1 L96.3,277.5 L97.3,278.7 L98.3,278.0 L99.3,279.1 L100.3,279.7 L101.3,278.3 L102.3,278.6 L103.3,278.4 L104.3,278.6 L105.3,278.7 L106.3,278.9 L107.3,277.9 L108.3,279.0 L109.3,277.8 L110.3,278.3 L111.3,278.7 L112.3,278.4 L113.3,277.7 L114.3,277.7 L115.3,277.8 L116.3,277.9 L117.3,278.4 L118.3,277.3 L119.3,278.0 L120.3,278.1 L121.3,278.0 L122.3,277.9 L123.3,278.3 L124.3,277.8 L125.3,278.0 L126.3,277.8 L127.3,278.3 L128.3,276.6 L129.3,278.0 L130.3,277.2 L131.3,277.2 L132.3,276.8 L133.3,276.4 L134.3,277.0 L135.3,276.8 L136.3,277.3 L137.3,276.4 L138.3,277.6 L139.3,277.1 L140.3,276.8 L141.3,276.6 L142.3,276.5 L143.3,276.3 L144.3,276.5 L145.3,276.7 L146.3,276.6 L147.3,276.0 L148.3,276.5 L149.3,276.1 L150.3,276.6 L151.3,277.3 L152.3,276.7 L153.3,276.2 L154.3,275.6 L155.3,275.7 L156.3,275.5 L157.3,276.5 L158.3,275.8 L159.3,276.2 L160.3,275.8 L161.3,276.1 L162.3,276.6 L163.3,275.6 L164.3,275.8 L165.3,275.5 L166.3,276.2 L167.3,275.3 L168.3,275.2 L169.3,275.0 L170.3,275.0 L171.3,275.8 L172.3,276.6 L173.3,275.0 L174.3,275.8 L175.3,275.4 L176.3,274.7 L177.3,275.0 L178.3,274.9 L179.3,274.6 L180.3,275.7 L181.3,273.9 L182.3,274.8 L183.3,274.7 L184.3,274.2 L185.3,274.4 L186.3,274.6 L187.3,274.1 L188.3,274.1 L189.3,274.0 L190.3,272.6 L191.3,274.0 L192.3,274.2 L193.3,273.4 L194.3,273.1 L195.3,271.8 L196.3,272.1 L197.3,271.5 L198.3,271.3 L199.3,271.7 L200.3,270.5 L201.3,270.4 L202.3,269.2 L203.3,269.6 L204.3,269.2 L205.3,268.3 L206.3,267.8 L207.3,268.4 L208.3,266.3 L209.3,265.7 L210.3,265.1 L211.3,265.2 L212.3,264.7 L213.3,263.0 L214.3,261.6 L215.3,260.7 L216.3,260.2 L217.3,258.1 L218.3,257.9 L219.3,256.5 L220.3,254.4 L221.3,253.0 L222.3,251.4 L223.3,249.9 L224.3,246.9 L225.3,245.8 L226.3,243.0 L227.3,240.5 L228.3,238.5 L229.3,235.8 L230.3,232.8 L231.3,229.7 L232.3,227.1 L233.3,225.1 L234.3,222.2 L235.3,218.3 L236.3,215.1 L237.3,210.8 L238.3,207.3 L239.3,203.7 L240.3,199.3 L241.3,195.4 L242.3,191.9 L243.3,187.7 L244.3,183.4 L245.3,179.9 L246.3,175.6 L247.3,172.1 L248.3,167.6 L249.3,163.6 L250.3,159.9 L251.3,156.0 L252.3,152.1 L253.3,148.7 L254.3,145.8 L255.3,142.6 L256.3,139.9 L257.3,135.8 L258.3,133.9 L259.3,131.6 L260.3,129.8 L261.3,127.8 L262.3,126.3 L263.3,125.8 L264.3,124.7 L265.3,123.6 L266.3,124.5 L267.3,124.5 L268.3,124.3 L269.3,125.8 L270.3,126.3 L271.3,128.6 L272.3,129.8 L273.3,131.7 L274.3,134.3 L275.3,136.9 L276.3,140.3 L277.3,143.5 L278.3,146.9 L279.3,150.2 L280.3,152.6 L281.3,158.3 L282.3,161.5 L283.3,166.6 L284.3,171.3 L285.3,175.2 L286.3,179.3 L287.3,183.8 L288.3,188.2 L289.3,192.4 L290.3,196.7 L291.3,200.8 L292.3,206.0 L293.3,209.6 L294.3,214.0 L295.3,217.4 L296.3,221.3 L297.3,224.9 L298.3,228.7 L299.3,232.3 L300.3,235.3 L301.3,238.1 L302.3,241.0 L303.3,244.9 L304.3,246.8 L305.3,249.3 L306.3,252.5 L307.3,254.6 L308.3,256.5 L309.3,258.1 L310.3,261.3 L311.3,262.2 L312.3,263.9 L313.3,265.1 L314.3,266.0 L315.3,267.3 L316.3,269.4 L317.3,270.5 L318.3,271.3 L319.3,271.8 L320.3,272.6 L321.3,273.9 L322.3,274.2 L323.3,275.9 L324.3,276.7 L325.3,278.1 L326.3,277.7 L327.3,277.6 L328.3,277.9 L329.3,277.1 L330.3,278.8 L331.3,279.3 L332.3,280.2 L333.3,280.3 L334.3,280.6 L335.3,280.6 L336.3,281.0 L337.3,281.6 L338.3,280.6 L339.3,281.1 L340.3,280.8 L341.3,282.3 L342.3,282.3 L343.3,282.2 L344.3,281.4 L345.3,282.1 L346.3,282.0 L347.3,282.2 L348.3,282.2 L349.3,282.6 L350.3,282.2 L351.3,282.9 L352.3,282.6 L353.3,282.4 L354.3,282.6 L355.3,282.5 L356.3,283.1 L357.3,282.6 L358.3,282.9 L359.3,282.6 L360.3,282.2 L361.3,283.3 L362.3,282.4 L363.3,283.2 L364.3,283.2 L365.3,282.2 L366.3,282.6 L367.3,282.8 L368.3,282.7 L369.3,282.6 L370.3,283.4 L371.3,283.0 L372.3,283.3 L373.3,283.0 L374.3,283.3 L375.3,282.9 L376.3,283.2 L377.3,283.5 L378.3,283.3 L379.3,283.1 L380.3,282.8 L381.3,283.4 L382.3,283.5 L383.3,283.2" fill="none" stroke="#ff8462" stroke-width="2.1" stroke-linejoin="round"/>
<path d="M39.3,279.8 L40.3,280.3 L41.3,281.2 L42.3,280.0 L43.3,280.2 L44.3,280.3 L45.3,278.9 L46.3,280.1 L47.3,279.8 L48.3,280.7 L49.3,279.9 L50.3,279.7 L51.3,279.9 L52.3,280.1 L53.3,279.8 L54.3,280.0 L55.3,279.4 L56.3,279.9 L57.3,280.3 L58.3,280.9 L59.3,280.3 L60.3,280.1 L61.3,280.5 L62.3,280.4 L63.3,280.7 L64.3,280.4 L65.3,279.8 L66.3,280.0 L67.3,279.9 L68.3,280.0 L69.3,279.9 L70.3,279.5 L71.3,278.9 L72.3,279.5 L73.3,278.9 L74.3,279.8 L75.3,279.7 L76.3,279.0 L77.3,280.0 L78.3,280.1 L79.3,279.7 L80.3,280.4 L81.3,280.5 L82.3,279.1 L83.3,280.0 L84.3,279.8 L85.3,279.7 L86.3,279.9 L87.3,279.2 L88.3,279.2 L89.3,279.1 L90.3,279.1 L91.3,279.4 L92.3,278.7 L93.3,278.9 L94.3,279.6 L95.3,279.3 L96.3,279.4 L97.3,278.4 L98.3,278.9 L99.3,278.9 L100.3,279.2 L101.3,278.9 L102.3,279.5 L103.3,279.1 L104.3,279.1 L105.3,279.0 L106.3,279.3 L107.3,278.8 L108.3,279.5 L109.3,279.1 L110.3,279.0 L111.3,278.9 L112.3,279.1 L113.3,279.3 L114.3,279.2 L115.3,278.9 L116.3,279.1 L117.3,278.7 L118.3,279.2 L119.3,278.6 L120.3,277.6 L121.3,279.2 L122.3,278.6 L123.3,278.0 L124.3,278.4 L125.3,278.0 L126.3,279.3 L127.3,278.6 L128.3,277.6 L129.3,278.5 L130.3,278.1 L131.3,279.1 L132.3,277.7 L133.3,277.2 L134.3,278.2 L135.3,278.0 L136.3,277.9 L137.3,277.1 L138.3,278.2 L139.3,278.7 L140.3,277.1 L141.3,278.5 L142.3,277.6 L143.3,278.9 L144.3,278.0 L145.3,277.7 L146.3,278.3 L147.3,278.0 L148.3,277.5 L149.3,278.0 L150.3,277.4 L151.3,276.8 L152.3,278.5 L153.3,277.4 L154.3,277.3 L155.3,277.7 L156.3,276.8 L157.3,276.8 L158.3,277.2 L159.3,277.2 L160.3,277.4 L161.3,277.8 L162.3,277.1 L163.3,277.5 L164.3,277.5 L165.3,276.7 L166.3,277.3 L167.3,276.7 L168.3,277.6 L169.3,277.3 L170.3,277.0 L171.3,276.4 L172.3,277.0 L173.3,276.5 L174.3,277.1 L175.3,276.7 L176.3,276.3 L177.3,277.1 L178.3,276.9 L179.3,276.2 L180.3,277.0 L181.3,276.2 L182.3,276.1 L183.3,276.2 L184.3,275.8 L185.3,275.8 L186.3,275.8 L187.3,276.5 L188.3,276.3 L189.3,275.4 L190.3,276.1 L191.3,275.2 L192.3,275.2 L193.3,275.2 L194.3,274.8 L195.3,275.5 L196.3,274.3 L197.3,273.4 L198.3,274.3 L199.3,273.2 L200.3,273.0 L201.3,271.4 L202.3,272.9 L203.3,272.4 L204.3,272.0 L205.3,271.7 L206.3,271.5 L207.3,270.2 L208.3,270.1 L209.3,268.8 L210.3,268.3 L211.3,268.3 L212.3,267.3 L213.3,265.7 L214.3,265.6 L215.3,264.5 L216.3,263.3 L217.3,262.8 L218.3,261.3 L219.3,259.6 L220.3,258.6 L221.3,258.6 L222.3,255.7 L223.3,255.0 L224.3,253.5 L225.3,251.9 L226.3,249.2 L227.3,247.7 L228.3,246.0 L229.3,244.2 L230.3,241.3 L231.3,238.7 L232.3,237.3 L233.3,234.8 L234.3,231.9 L235.3,228.7 L236.3,226.3 L237.3,223.3 L238.3,220.6 L239.3,216.5 L240.3,214.0 L241.3,210.6 L242.3,206.9 L243.3,204.1 L244.3,200.7 L245.3,197.1 L246.3,194.0 L247.3,189.8 L248.3,187.1 L249.3,183.9 L250.3,180.6 L251.3,177.7 L252.3,173.5 L253.3,170.4 L254.3,168.2 L255.3,165.5 L256.3,163.6 L257.3,160.5 L258.3,157.5 L259.3,156.2 L260.3,153.6 L261.3,151.6 L262.3,152.0 L263.3,149.7 L264.3,149.0 L265.3,148.2 L266.3,148.3 L267.3,147.4 L268.3,148.0 L269.3,147.3 L270.3,147.8 L271.3,150.0 L272.3,151.2 L273.3,152.2 L274.3,153.8 L275.3,155.7 L276.3,157.5 L277.3,160.9 L278.3,163.1 L279.3,165.9 L280.3,168.7 L281.3,172.2 L282.3,175.1 L283.3,178.6 L284.3,181.2 L285.3,185.4 L286.3,189.8 L287.3,192.2 L288.3,196.0 L289.3,200.1 L290.3,203.8 L291.3,207.2 L292.3,209.8 L293.3,214.3 L294.3,217.0 L295.3,220.6 L296.3,224.6 L297.3,227.4 L298.3,231.1 L299.3,235.2 L300.3,237.1 L301.3,239.9 L302.3,241.9 L303.3,244.6 L304.3,246.9 L305.3,249.5 L306.3,251.5 L307.3,253.9 L308.3,256.1 L309.3,257.7 L310.3,259.3 L311.3,261.0 L312.3,263.5 L313.3,264.8 L314.3,266.6 L315.3,268.0 L316.3,268.6 L317.3,270.2 L318.3,270.3 L319.3,273.0 L320.3,273.4 L321.3,273.6 L322.3,274.0 L323.3,275.4 L324.3,275.0 L325.3,276.1 L326.3,277.4 L327.3,277.6 L328.3,277.8 L329.3,278.9 L330.3,278.4 L331.3,279.4 L332.3,279.4 L333.3,279.5 L334.3,280.4 L335.3,280.0 L336.3,281.6 L337.3,280.7 L338.3,282.0 L339.3,280.8 L340.3,281.7 L341.3,281.1 L342.3,281.1 L343.3,281.9 L344.3,282.3 L345.3,281.5 L346.3,282.7 L347.3,281.9 L348.3,282.4 L349.3,282.6 L350.3,282.8 L351.3,281.7 L352.3,283.3 L353.3,282.9 L354.3,282.5 L355.3,282.3 L356.3,282.0 L357.3,282.2 L358.3,283.1 L359.3,282.7 L360.3,282.4 L361.3,282.7 L362.3,283.7 L363.3,282.9 L364.3,282.8 L365.3,283.7 L366.3,283.3 L367.3,283.1 L368.3,282.8 L369.3,282.4 L370.3,282.6 L371.3,283.0 L372.3,283.1 L373.3,283.4 L374.3,283.5 L375.3,283.3 L376.3,283.4 L377.3,282.8 L378.3,282.3 L379.3,283.1 L380.3,282.9 L381.3,283.0 L382.3,283.2 L383.3,282.8" fill="none" stroke="#ff1020" stroke-width="2.1" stroke-linejoin="round"/>
<path d="M39.3,279.6 L40.3,280.1 L41.3,280.2 L42.3,279.8 L43.3,280.3 L44.3,280.0 L45.3,279.7 L46.3,280.1 L47.3,280.9 L48.3,279.8 L49.3,280.6 L50.3,280.7 L51.3,280.8 L52.3,279.7 L53.3,281.0 L54.3,280.1 L55.3,279.9 L56.3,279.9 L57.3,280.3 L58.3,280.0 L59.3,279.9 L60.3,280.6 L61.3,279.7 L62.3,279.5 L63.3,280.3 L64.3,280.3 L65.3,280.4 L66.3,279.5 L67.3,280.4 L68.3,280.1 L69.3,280.7 L70.3,279.3 L71.3,280.0 L72.3,279.7 L73.3,279.1 L74.3,279.5 L75.3,280.3 L76.3,279.6 L77.3,279.4 L78.3,280.1 L79.3,280.2 L80.3,280.2 L81.3,279.3 L82.3,279.7 L83.3,280.1 L84.3,279.4 L85.3,279.3 L86.3,280.0 L87.3,280.3 L88.3,279.0 L89.3,278.4 L90.3,278.9 L91.3,279.0 L92.3,279.4 L93.3,279.7 L94.3,279.4 L95.3,279.1 L96.3,279.5 L97.3,278.9 L98.3,279.3 L99.3,279.0 L100.3,280.5 L101.3,279.6 L102.3,278.9 L103.3,278.8 L104.3,279.0 L105.3,278.4 L106.3,278.8 L107.3,278.8 L108.3,279.5 L109.3,278.9 L110.3,278.7 L111.3,278.4 L112.3,278.4 L113.3,278.9 L114.3,278.8 L115.3,279.4 L116.3,278.6 L117.3,279.3 L118.3,278.9 L119.3,278.8 L120.3,277.8 L121.3,278.1 L122.3,279.0 L123.3,279.3 L124.3,278.7 L125.3,279.0 L126.3,278.4 L127.3,278.4 L128.3,278.2 L129.3,278.9 L130.3,278.6 L131.3,278.3 L132.3,278.3 L133.3,278.6 L134.3,278.5 L135.3,278.0 L136.3,279.1 L137.3,278.4 L138.3,278.2 L139.3,278.9 L140.3,278.6 L141.3,278.1 L142.3,278.4 L143.3,277.6 L144.3,277.8 L145.3,277.0 L146.3,278.6 L147.3,277.1 L148.3,278.3 L149.3,277.6 L150.3,277.5 L151.3,277.8 L152.3,278.0 L153.3,278.1 L154.3,278.6 L155.3,278.0 L156.3,278.2 L157.3,277.5 L158.3,278.0 L159.3,277.8 L160.3,277.5 L161.3,277.6 L162.3,277.6 L163.3,277.7 L164.3,277.7 L165.3,277.3 L166.3,277.2 L167.3,277.8 L168.3,276.7 L169.3,277.1 L170.3,278.1 L171.3,276.1 L172.3,277.0 L173.3,277.6 L174.3,276.5 L175.3,278.4 L176.3,276.0 L177.3,277.8 L178.3,277.8 L179.3,277.4 L180.3,276.9 L181.3,277.1 L182.3,276.4 L183.3,277.1 L184.3,276.2 L185.3,276.5 L186.3,277.0 L187.3,276.0 L188.3,276.2 L189.3,276.3 L190.3,275.5 L191.3,276.6 L192.3,276.1 L193.3,275.1 L194.3,275.6 L195.3,275.1 L196.3,275.0 L197.3,275.1 L198.3,274.6 L199.3,275.1 L200.3,274.1 L201.3,274.6 L202.3,273.9 L203.3,274.0 L204.3,273.1 L205.3,272.8 L206.3,272.1 L207.3,272.5 L208.3,272.2 L209.3,272.3 L210.3,271.5 L211.3,270.5 L212.3,269.7 L213.3,269.4 L214.3,268.6 L215.3,268.6 L216.3,267.6 L217.3,266.0 L218.3,265.3 L219.3,265.3 L220.3,263.9 L221.3,262.7 L222.3,262.2 L223.3,260.4 L224.3,259.3 L225.3,257.9 L226.3,255.9 L227.3,255.8 L228.3,253.3 L229.3,252.1 L230.3,250.3 L231.3,249.3 L232.3,247.1 L233.3,245.3 L234.3,242.6 L235.3,241.3 L236.3,238.5 L237.3,237.2 L238.3,235.0 L239.3,232.5 L240.3,231.1 L241.3,228.0 L242.3,225.6 L243.3,222.9 L244.3,220.2 L245.3,218.2 L246.3,215.7 L247.3,212.1 L248.3,210.6 L249.3,207.8 L250.3,205.5 L251.3,202.8 L252.3,199.6 L253.3,197.3 L254.3,196.4 L255.3,193.5 L256.3,190.6 L257.3,189.5 L258.3,187.3 L259.3,184.9 L260.3,183.1 L261.3,182.0 L262.3,181.5 L263.3,180.3 L264.3,179.3 L265.3,178.7 L266.3,178.3 L267.3,176.7 L268.3,177.3 L269.3,177.1 L270.3,177.2 L271.3,177.9 L272.3,178.7 L273.3,179.4 L274.3,179.9 L275.3,181.6 L276.3,184.1 L277.3,184.2 L278.3,185.7 L279.3,188.5 L280.3,190.6 L281.3,192.7 L282.3,194.3 L283.3,197.6 L284.3,199.3 L285.3,201.7 L286.3,204.5 L287.3,207.4 L288.3,210.5 L289.3,213.2 L290.3,215.6 L291.3,218.8 L292.3,221.2 L293.3,224.3 L294.3,226.0 L295.3,228.6 L296.3,232.3 L297.3,233.9 L298.3,237.0 L299.3,239.5 L300.3,241.8 L301.3,244.1 L302.3,247.2 L303.3,247.6 L304.3,251.2 L305.3,253.9 L306.3,254.8 L307.3,256.6 L308.3,258.7 L309.3,260.9 L310.3,261.1 L311.3,263.2 L312.3,264.5 L313.3,266.1 L314.3,267.2 L315.3,268.6 L316.3,269.3 L317.3,270.5 L318.3,271.2 L319.3,272.1 L320.3,273.2 L321.3,274.0 L322.3,274.2 L323.3,276.1 L324.3,276.0 L325.3,276.0 L326.3,277.7 L327.3,277.4 L328.3,278.4 L329.3,278.6 L330.3,279.1 L331.3,279.4 L332.3,279.4 L333.3,280.0 L334.3,281.2 L335.3,279.5 L336.3,280.8 L337.3,281.1 L338.3,280.7 L339.3,280.7 L340.3,282.4 L341.3,281.5 L342.3,282.7 L343.3,282.1 L344.3,282.0 L345.3,282.3 L346.3,282.5 L347.3,282.8 L348.3,282.6 L349.3,282.5 L350.3,282.6 L351.3,283.2 L352.3,283.0 L353.3,282.2 L354.3,282.4 L355.3,282.9 L356.3,282.5 L357.3,282.7 L358.3,282.4 L359.3,282.8 L360.3,283.1 L361.3,283.4 L362.3,283.0 L363.3,284.0 L364.3,283.0 L365.3,284.5 L366.3,283.5 L367.3,283.3 L368.3,282.9 L369.3,281.9 L370.3,283.1 L371.3,283.3 L372.3,284.1 L373.3,282.6 L374.3,284.1 L375.3,283.1 L376.3,283.6 L377.3,282.1 L378.3,283.4 L379.3,283.2 L380.3,283.6 L381.3,283.4 L382.3,282.8 L383.3,283.8" fill="none" stroke="#f41030" stroke-width="2.1" stroke-linejoin="round"/>
<path d="M449.8,261.7 L450.8,261.5 L451.8,261.5 L452.8,261.4 L453.8,261.0 L454.8,260.4 L455.8,260.3 L456.8,261.0 L457.8,260.6 L458.8,260.3 L459.8,260.0 L460.8,259.9 L461.8,259.8 L462.8,259.5 L463.8,259.1 L464.8,259.8 L465.8,259.0 L466.8,258.5 L467.8,258.0 L468.8,257.9 L469.8,258.1 L470.8,257.8 L471.8,257.2 L472.8,257.0 L473.8,256.5 L474.8,255.9 L475.8,256.3 L476.8,255.6 L477.8,255.8 L478.8,254.4 L479.8,254.1 L480.8,254.0 L481.8,253.2 L482.8,252.3 L483.8,251.9 L484.8,251.7 L485.8,251.2 L486.8,250.5 L487.8,250.3 L488.8,249.7 L489.8,248.8 L490.8,248.1 L491.8,247.4 L492.8,247.0 L493.8,246.4 L494.8,245.5 L495.8,244.9 L496.8,244.0 L497.8,243.0 L498.8,242.4 L499.8,242.3 L500.8,241.5 L501.8,241.1 L502.8,240.0 L503.8,239.5 L504.8,239.0 L505.8,238.2 L506.8,237.1 L507.8,236.6 L508.8,236.0 L509.8,235.1 L510.8,234.9 L511.8,234.5 L512.8,233.5 L513.8,233.7 L514.8,232.6 L515.8,232.1 L516.8,231.7 L517.8,231.1 L518.8,231.1 L519.8,230.7 L520.8,230.9 L521.8,230.3 L522.8,230.0 L523.8,229.6 L524.8,229.1 L525.8,229.4 L526.8,229.2 L527.8,229.7 L528.8,229.4 L529.8,230.0 L530.8,229.8 L531.8,230.0 L532.8,230.0 L533.8,230.2 L534.8,230.6 L535.8,230.9 L536.8,230.7 L537.8,231.4 L538.8,232.4 L539.8,231.9 L540.8,232.2 L541.8,232.5 L542.8,232.7 L543.8,233.9 L544.8,234.0 L545.8,234.5 L546.8,235.4 L547.8,236.1 L548.8,235.6 L549.8,236.7 L550.8,237.0 L551.8,237.4 L552.8,238.0 L553.8,238.3 L554.8,239.3 L555.8,239.5 L556.8,239.9 L557.8,240.6 L558.8,241.0 L559.8,241.3 L560.8,241.7 L561.8,242.6 L562.8,242.6 L563.8,242.8 L564.8,242.9 L565.8,243.4 L566.8,243.5 L567.8,244.1 L568.8,244.4 L569.8,244.0 L570.8,244.8 L571.8,245.1 L572.8,245.1 L573.8,244.8 L574.8,245.5 L575.8,245.0 L576.8,244.8 L577.8,244.8 L578.8,245.0 L579.8,245.1 L580.8,245.0 L581.8,244.5 L582.8,243.8 L583.8,243.7 L584.8,243.2 L585.8,243.1 L586.8,242.2 L587.8,242.3 L588.8,241.9 L589.8,241.2 L590.8,240.8 L591.8,239.7 L592.8,239.0 L593.8,238.5 L594.8,238.3 L595.8,237.6 L596.8,236.3 L597.8,236.0 L598.8,234.7 L599.8,234.4 L600.8,233.2 L601.8,232.0 L602.8,231.4 L603.8,229.9 L604.8,228.9 L605.8,227.7 L606.8,227.1 L607.8,226.0 L608.8,224.8 L609.8,223.6 L610.8,222.9 L611.8,221.2 L612.8,219.8 L613.8,219.2 L614.8,217.9 L615.8,216.2 L616.8,214.2 L617.8,213.2 L618.8,212.1 L619.8,210.4 L620.8,209.3 L621.8,206.9 L622.8,205.8 L623.8,203.7 L624.8,202.6 L625.8,200.4 L626.8,198.8 L627.8,196.4 L628.8,194.2 L629.8,192.2 L630.8,190.3 L631.8,187.9 L632.8,186.3 L633.8,184.0 L634.8,181.3 L635.8,178.4 L636.8,176.1 L637.8,173.3 L638.8,171.3 L639.8,168.1 L640.8,165.3 L641.8,162.1 L642.8,158.6 L643.8,156.0 L644.8,152.7 L645.8,150.0 L646.8,146.7 L647.8,143.1 L648.8,139.9 L649.8,137.1 L650.8,133.0 L651.8,129.5 L652.8,126.3 L653.8,122.7 L654.8,119.4 L655.8,116.3 L656.8,113.2 L657.8,108.8 L658.8,106.0 L659.8,102.8 L660.8,99.5 L661.8,96.4 L662.8,93.3 L663.8,90.8 L664.8,87.5 L665.8,84.9 L666.8,82.4 L667.8,80.0 L668.8,77.7 L669.8,75.9 L670.8,73.7 L671.8,72.0 L672.8,70.4 L673.8,68.7 L674.8,67.7 L675.8,66.7 L676.8,66.3 L677.8,65.6 L678.8,65.2 L679.8,65.6 L680.8,65.9 L681.8,65.7 L682.8,67.6 L683.8,68.3 L684.8,70.0 L685.8,72.4 L686.8,74.6 L687.8,77.2 L688.8,81.2 L689.8,83.7 L690.8,87.7 L691.8,92.0 L692.8,95.7 L693.8,100.5 L694.8,105.2 L695.8,110.6 L696.8,114.5 L697.8,119.8 L698.8,125.1 L699.8,130.1 L700.8,134.9 L701.8,140.6 L702.8,145.7 L703.8,151.0 L704.8,156.4 L705.8,161.4 L706.8,166.3 L707.8,171.3 L708.8,175.8 L709.8,180.9 L710.8,185.7 L711.8,190.2 L712.8,194.8 L713.8,198.9 L714.8,203.9 L715.8,208.2 L716.8,211.5 L717.8,215.6 L718.8,219.1 L719.8,223.1 L720.8,226.3 L721.8,229.5 L722.8,232.5 L723.8,235.6 L724.8,238.1 L725.8,241.3 L726.8,243.5 L727.8,246.3 L728.8,248.5 L729.8,251.0 L730.8,252.7 L731.8,254.9 L732.8,256.2 L733.8,258.3 L734.8,259.7 L735.8,261.3 L736.8,262.7 L737.8,264.2 L738.8,264.6 L739.8,266.4 L740.8,266.9 L741.8,268.7 L742.8,268.6 L743.8,269.8 L744.8,270.3 L745.8,272.0 L746.8,271.8 L747.8,272.9 L748.8,273.2 L749.8,273.4 L750.8,274.3 L751.8,275.0 L752.8,275.2 L753.8,275.9 L754.8,275.8 L755.8,276.3 L756.8,276.5 L757.8,276.9 L758.8,277.7 L759.8,277.4 L760.8,277.6 L761.8,277.6 L762.8,277.7 L763.8,278.5 L764.8,277.9 L765.8,278.1 L766.8,278.5 L767.8,278.6 L768.8,279.4 L769.8,278.2 L770.8,279.1 L771.8,279.3 L772.8,278.9 L773.8,279.1 L774.8,279.5 L775.8,280.0 L776.8,279.3 L777.8,279.2 L778.8,280.0 L779.8,280.2 L780.8,279.8 L781.8,279.3 L782.8,280.4 L783.8,280.0 L784.8,280.4 L785.8,280.1 L786.8,280.1 L787.8,280.1 L788.8,280.7 L789.8,280.8 L790.8,279.8 L791.8,280.2 L792.8,281.0 L793.8,280.4 L794.8,280.2 L795.8,280.6 L796.8,280.6 L797.8,280.7 L798.8,280.6 L799.8,280.7" fill="none" stroke="#6420d8" stroke-width="2" stroke-linejoin="round"/>
<path d="M449.8,259.8 L450.8,259.9 L451.8,259.4 L452.8,259.4 L453.8,259.3 L454.8,259.6 L455.8,259.1 L456.8,258.8 L457.8,258.8 L458.8,258.6 L459.8,258.6 L460.8,258.2 L461.8,258.4 L462.8,258.0 L463.8,257.3 L464.8,256.9 L465.8,257.0 L466.8,256.6 L467.8,256.1 L468.8,255.3 L469.8,254.9 L470.8,255.2 L471.8,254.9 L472.8,254.5 L473.8,253.4 L474.8,253.7 L475.8,252.7 L476.8,252.5 L477.8,252.0 L478.8,251.1 L479.8,250.6 L480.8,249.6 L481.8,249.3 L482.8,248.4 L483.8,248.4 L484.8,247.6 L485.8,247.2 L486.8,246.3 L487.8,245.3 L488.8,244.8 L489.8,243.8 L490.8,243.3 L491.8,242.5 L492.8,241.2 L493.8,240.7 L494.8,239.9 L495.8,238.9 L496.8,238.4 L497.8,237.8 L498.8,236.3 L499.8,235.4 L500.8,234.0 L501.8,233.8 L502.8,232.8 L503.8,231.4 L504.8,231.3 L505.8,230.6 L506.8,229.4 L507.8,228.7 L508.8,227.7 L509.8,227.4 L510.8,226.0 L511.8,225.7 L512.8,225.6 L513.8,224.4 L514.8,223.9 L515.8,223.1 L516.8,222.3 L517.8,222.1 L518.8,221.8 L519.8,220.9 L520.8,220.9 L521.8,220.9 L522.8,220.5 L523.8,219.5 L524.8,219.5 L525.8,219.2 L526.8,219.9 L527.8,219.7 L528.8,219.8 L529.8,219.4 L530.8,219.4 L531.8,220.0 L532.8,220.2 L533.8,220.1 L534.8,220.7 L535.8,221.2 L536.8,221.4 L537.8,221.4 L538.8,221.4 L539.8,222.4 L540.8,223.0 L541.8,223.3 L542.8,223.8 L543.8,224.3 L544.8,225.2 L545.8,225.6 L546.8,226.2 L547.8,226.5 L548.8,227.2 L549.8,228.1 L550.8,228.4 L551.8,228.9 L552.8,229.9 L553.8,231.0 L554.8,231.3 L555.8,232.4 L556.8,232.6 L557.8,233.2 L558.8,233.5 L559.8,234.4 L560.8,235.6 L561.8,235.9 L562.8,236.6 L563.8,237.2 L564.8,237.5 L565.8,238.0 L566.8,238.6 L567.8,239.2 L568.8,239.6 L569.8,240.1 L570.8,240.4 L571.8,240.5 L572.8,240.9 L573.8,241.0 L574.8,241.9 L575.8,241.2 L576.8,241.9 L577.8,242.8 L578.8,242.1 L579.8,242.0 L580.8,242.3 L581.8,242.7 L582.8,242.2 L583.8,242.3 L584.8,242.0 L585.8,241.7 L586.8,242.5 L587.8,241.3 L588.8,240.8 L589.8,240.5 L590.8,240.4 L591.8,239.9 L592.8,239.6 L593.8,238.9 L594.8,237.8 L595.8,237.8 L596.8,236.9 L597.8,236.3 L598.8,235.2 L599.8,234.7 L600.8,233.9 L601.8,233.3 L602.8,232.0 L603.8,231.5 L604.8,230.6 L605.8,229.3 L606.8,228.4 L607.8,227.3 L608.8,226.7 L609.8,224.6 L610.8,224.0 L611.8,222.4 L612.8,221.5 L613.8,220.6 L614.8,218.8 L615.8,217.6 L616.8,215.9 L617.8,215.2 L618.8,213.3 L619.8,211.7 L620.8,209.3 L621.8,207.6 L622.8,206.4 L623.8,204.1 L624.8,202.1 L625.8,200.2 L626.8,197.6 L627.8,196.0 L628.8,193.5 L629.8,191.2 L630.8,188.4 L631.8,186.2 L632.8,183.2 L633.8,180.9 L634.8,178.1 L635.8,175.1 L636.8,171.9 L637.8,168.8 L638.8,164.6 L639.8,162.4 L640.8,158.6 L641.8,155.2 L642.8,151.5 L643.8,147.5 L644.8,144.1 L645.8,140.6 L646.8,137.0 L647.8,132.4 L648.8,128.4 L649.8,125.0 L650.8,120.3 L651.8,117.1 L652.8,112.4 L653.8,108.0 L654.8,104.4 L655.8,100.6 L656.8,95.6 L657.8,92.4 L658.8,87.9 L659.8,84.6 L660.8,80.2 L661.8,76.1 L662.8,73.1 L663.8,69.7 L664.8,66.6 L665.8,63.3 L666.8,59.9 L667.8,56.7 L668.8,53.9 L669.8,51.4 L670.8,48.9 L671.8,46.9 L672.8,44.3 L673.8,43.5 L674.8,42.0 L675.8,41.6 L676.8,40.1 L677.8,39.1 L678.8,39.0 L679.8,38.3 L680.8,38.6 L681.8,38.7 L682.8,40.5 L683.8,41.6 L684.8,42.9 L685.8,45.5 L686.8,48.5 L687.8,51.5 L688.8,54.9 L689.8,58.4 L690.8,62.7 L691.8,67.4 L692.8,72.4 L693.8,76.9 L694.8,82.0 L695.8,88.0 L696.8,92.9 L697.8,99.1 L698.8,104.6 L699.8,110.6 L700.8,116.7 L701.8,122.2 L702.8,128.1 L703.8,133.4 L704.8,139.3 L705.8,145.5 L706.8,151.5 L707.8,157.1 L708.8,162.9 L709.8,167.7 L710.8,173.0 L711.8,178.5 L712.8,183.3 L713.8,188.2 L714.8,192.7 L715.8,198.0 L716.8,201.9 L717.8,206.8 L718.8,210.4 L719.8,215.2 L720.8,218.4 L721.8,222.7 L722.8,225.5 L723.8,229.2 L724.8,232.9 L725.8,235.4 L726.8,238.6 L727.8,241.2 L728.8,243.2 L729.8,246.5 L730.8,248.8 L731.8,250.6 L732.8,253.1 L733.8,254.6 L734.8,256.4 L735.8,258.4 L736.8,259.8 L737.8,262.1 L738.8,262.3 L739.8,264.3 L740.8,265.6 L741.8,265.8 L742.8,266.9 L743.8,268.5 L744.8,269.1 L745.8,270.2 L746.8,271.1 L747.8,271.4 L748.8,271.8 L749.8,271.9 L750.8,273.3 L751.8,273.5 L752.8,274.3 L753.8,274.7 L754.8,274.6 L755.8,275.9 L756.8,276.0 L757.8,276.3 L758.8,276.0 L759.8,276.5 L760.8,276.7 L761.8,276.9 L762.8,276.9 L763.8,277.6 L764.8,277.7 L765.8,277.9 L766.8,277.8 L767.8,278.5 L768.8,278.3 L769.8,277.6 L770.8,278.3 L771.8,278.6 L772.8,279.0 L773.8,278.7 L774.8,278.9 L775.8,278.8 L776.8,279.3 L777.8,279.1 L778.8,279.1 L779.8,279.1 L780.8,279.6 L781.8,279.4 L782.8,279.1 L783.8,279.8 L784.8,279.5 L785.8,279.9 L786.8,279.9 L787.8,280.3 L788.8,280.3 L789.8,279.8 L790.8,280.0 L791.8,279.7 L792.8,280.7 L793.8,280.3 L794.8,280.7 L795.8,280.2 L796.8,279.7 L797.8,280.9 L798.8,280.5 L799.8,280.5" fill="none" stroke="#2030e8" stroke-width="2" stroke-linejoin="round"/>
<path d="M449.8,258.3 L450.8,258.3 L451.8,258.1 L452.8,257.3 L453.8,257.9 L454.8,257.2 L455.8,257.1 L456.8,257.5 L457.8,257.1 L458.8,256.5 L459.8,255.8 L460.8,256.1 L461.8,256.0 L462.8,255.5 L463.8,254.9 L464.8,254.7 L465.8,254.2 L466.8,254.3 L467.8,254.2 L468.8,253.8 L469.8,252.9 L470.8,252.8 L471.8,252.4 L472.8,251.6 L473.8,251.2 L474.8,251.4 L475.8,250.3 L476.8,249.9 L477.8,248.9 L478.8,248.5 L479.8,247.3 L480.8,247.1 L481.8,246.8 L482.8,246.4 L483.8,245.3 L484.8,244.4 L485.8,243.5 L486.8,242.4 L487.8,241.7 L488.8,241.1 L489.8,239.8 L490.8,239.5 L491.8,238.0 L492.8,236.8 L493.8,236.1 L494.8,234.9 L495.8,234.1 L496.8,233.8 L497.8,232.5 L498.8,231.6 L499.8,230.9 L500.8,229.9 L501.8,228.4 L502.8,228.0 L503.8,226.7 L504.8,225.7 L505.8,224.8 L506.8,223.3 L507.8,222.6 L508.8,221.9 L509.8,221.3 L510.8,220.1 L511.8,219.4 L512.8,218.9 L513.8,218.3 L514.8,217.4 L515.8,216.9 L516.8,215.7 L517.8,215.2 L518.8,214.8 L519.8,214.2 L520.8,213.7 L521.8,213.9 L522.8,213.0 L523.8,212.5 L524.8,212.8 L525.8,213.0 L526.8,212.4 L527.8,212.7 L528.8,212.2 L529.8,212.2 L530.8,212.3 L531.8,212.7 L532.8,213.5 L533.8,212.8 L534.8,214.0 L535.8,213.5 L536.8,214.1 L537.8,214.9 L538.8,215.2 L539.8,215.6 L540.8,215.5 L541.8,216.7 L542.8,216.8 L543.8,218.5 L544.8,218.3 L545.8,219.0 L546.8,219.3 L547.8,220.1 L548.8,220.6 L549.8,222.0 L550.8,222.3 L551.8,223.3 L552.8,223.7 L553.8,224.5 L554.8,225.7 L555.8,225.8 L556.8,226.3 L557.8,227.7 L558.8,228.0 L559.8,228.9 L560.8,230.0 L561.8,230.2 L562.8,231.4 L563.8,231.6 L564.8,232.8 L565.8,233.4 L566.8,233.4 L567.8,234.1 L568.8,234.4 L569.8,235.2 L570.8,236.0 L571.8,235.6 L572.8,236.7 L573.8,236.4 L574.8,236.9 L575.8,236.9 L576.8,238.3 L577.8,237.8 L578.8,238.1 L579.8,237.9 L580.8,238.5 L581.8,237.5 L582.8,238.1 L583.8,238.7 L584.8,237.8 L585.8,237.8 L586.8,237.8 L587.8,237.1 L588.8,237.0 L589.8,237.0 L590.8,236.4 L591.8,236.0 L592.8,235.3 L593.8,235.0 L594.8,234.4 L595.8,234.2 L596.8,233.4 L597.8,232.4 L598.8,231.1 L599.8,231.3 L600.8,230.5 L601.8,229.2 L602.8,228.1 L603.8,227.5 L604.8,227.2 L605.8,225.7 L606.8,224.9 L607.8,224.1 L608.8,223.3 L609.8,221.9 L610.8,220.8 L611.8,219.5 L612.8,219.0 L613.8,217.6 L614.8,216.0 L615.8,214.3 L616.8,213.2 L617.8,212.2 L618.8,210.4 L619.8,209.4 L620.8,207.8 L621.8,206.2 L622.8,204.7 L623.8,202.9 L624.8,200.8 L625.8,199.2 L626.8,198.1 L627.8,195.1 L628.8,193.3 L629.8,191.7 L630.8,189.2 L631.8,186.8 L632.8,184.4 L633.8,182.6 L634.8,180.3 L635.8,177.9 L636.8,174.9 L637.8,172.5 L638.8,169.1 L639.8,166.6 L640.8,163.5 L641.8,160.7 L642.8,157.9 L643.8,154.8 L644.8,151.0 L645.8,148.5 L646.8,144.6 L647.8,141.1 L648.8,138.0 L649.8,134.2 L650.8,131.1 L651.8,127.7 L652.8,124.1 L653.8,120.8 L654.8,117.0 L655.8,113.6 L656.8,109.7 L657.8,106.7 L658.8,103.1 L659.8,99.9 L660.8,96.7 L661.8,93.6 L662.8,90.0 L663.8,87.0 L664.8,84.5 L665.8,82.0 L666.8,79.3 L667.8,77.0 L668.8,74.8 L669.8,72.4 L670.8,70.3 L671.8,68.2 L672.8,66.7 L673.8,65.4 L674.8,64.5 L675.8,63.5 L676.8,62.7 L677.8,62.2 L678.8,62.1 L679.8,62.0 L680.8,62.2 L681.8,62.7 L682.8,63.3 L683.8,64.4 L684.8,66.6 L685.8,68.7 L686.8,71.0 L687.8,73.8 L688.8,77.8 L689.8,80.4 L690.8,84.4 L691.8,88.6 L692.8,92.5 L693.8,97.4 L694.8,102.6 L695.8,107.2 L696.8,112.1 L697.8,117.2 L698.8,122.3 L699.8,127.7 L700.8,132.7 L701.8,137.9 L702.8,143.3 L703.8,148.9 L704.8,153.9 L705.8,159.3 L706.8,163.6 L707.8,169.6 L708.8,175.0 L709.8,179.6 L710.8,183.9 L711.8,188.5 L712.8,193.4 L713.8,197.5 L714.8,202.3 L715.8,206.1 L716.8,210.6 L717.8,214.7 L718.8,217.4 L719.8,221.8 L720.8,225.0 L721.8,228.1 L722.8,231.5 L723.8,234.7 L724.8,238.0 L725.8,240.0 L726.8,243.4 L727.8,246.1 L728.8,248.0 L729.8,250.2 L730.8,252.2 L731.8,253.8 L732.8,256.2 L733.8,257.8 L734.8,259.6 L735.8,261.6 L736.8,262.5 L737.8,263.7 L738.8,265.3 L739.8,265.6 L740.8,266.7 L741.8,267.9 L742.8,268.8 L743.8,270.0 L744.8,270.5 L745.8,271.9 L746.8,272.5 L747.8,272.9 L748.8,273.1 L749.8,273.9 L750.8,274.5 L751.8,274.4 L752.8,275.2 L753.8,275.7 L754.8,275.9 L755.8,276.6 L756.8,276.8 L757.8,276.5 L758.8,277.0 L759.8,277.0 L760.8,277.6 L761.8,277.4 L762.8,278.1 L763.8,278.1 L764.8,278.5 L765.8,278.3 L766.8,278.0 L767.8,279.1 L768.8,278.7 L769.8,279.3 L770.8,279.1 L771.8,279.3 L772.8,279.7 L773.8,279.4 L774.8,279.8 L775.8,279.0 L776.8,279.8 L777.8,279.5 L778.8,279.6 L779.8,279.7 L780.8,279.9 L781.8,280.4 L782.8,279.4 L783.8,280.0 L784.8,279.8 L785.8,280.5 L786.8,280.0 L787.8,280.3 L788.8,280.1 L789.8,280.5 L790.8,280.7 L791.8,280.3 L792.8,280.5 L793.8,280.1 L794.8,280.6 L795.8,280.8 L796.8,280.5 L797.8,281.0 L798.8,280.1 L799.8,280.2" fill="none" stroke="#70f2f2" stroke-width="2" stroke-linejoin="round"/>
<path d="M449.8,260.0 L450.8,260.2 L451.8,260.2 L452.8,260.0 L453.8,259.9 L454.8,260.0 L455.8,259.4 L456.8,259.0 L457.8,258.9 L458.8,259.7 L459.8,258.2 L460.8,258.6 L461.8,258.9 L462.8,258.4 L463.8,257.7 L464.8,257.7 L465.8,257.7 L466.8,257.5 L467.8,256.6 L468.8,256.8 L469.8,256.3 L470.8,256.2 L471.8,255.9 L472.8,255.0 L473.8,254.3 L474.8,254.4 L475.8,254.4 L476.8,253.6 L477.8,252.9 L478.8,253.1 L479.8,251.5 L480.8,251.5 L481.8,250.5 L482.8,250.1 L483.8,249.5 L484.8,249.3 L485.8,247.9 L486.8,247.4 L487.8,246.4 L488.8,246.3 L489.8,245.3 L490.8,244.8 L491.8,243.6 L492.8,243.0 L493.8,242.7 L494.8,241.5 L495.8,241.0 L496.8,240.1 L497.8,239.0 L498.8,237.9 L499.8,237.8 L500.8,236.7 L501.8,236.2 L502.8,234.5 L503.8,233.8 L504.8,232.8 L505.8,232.4 L506.8,232.2 L507.8,231.3 L508.8,230.4 L509.8,229.7 L510.8,229.2 L511.8,228.2 L512.8,227.7 L513.8,227.1 L514.8,225.8 L515.8,225.8 L516.8,225.8 L517.8,224.7 L518.8,224.4 L519.8,223.8 L520.8,223.5 L521.8,223.7 L522.8,223.0 L523.8,222.6 L524.8,221.7 L525.8,222.4 L526.8,221.9 L527.8,221.9 L528.8,222.7 L529.8,222.8 L530.8,222.1 L531.8,223.1 L532.8,223.1 L533.8,223.0 L534.8,223.7 L535.8,223.3 L536.8,223.7 L537.8,224.0 L538.8,224.5 L539.8,225.5 L540.8,225.2 L541.8,225.7 L542.8,226.2 L543.8,227.1 L544.8,227.4 L545.8,228.3 L546.8,228.3 L547.8,228.7 L548.8,229.5 L549.8,230.2 L550.8,230.5 L551.8,231.5 L552.8,232.5 L553.8,232.4 L554.8,233.1 L555.8,234.1 L556.8,234.1 L557.8,234.6 L558.8,235.1 L559.8,236.1 L560.8,236.6 L561.8,236.9 L562.8,237.5 L563.8,238.3 L564.8,238.6 L565.8,238.4 L566.8,239.2 L567.8,239.6 L568.8,240.1 L569.8,240.1 L570.8,240.3 L571.8,240.6 L572.8,240.4 L573.8,241.1 L574.8,241.0 L575.8,241.4 L576.8,241.0 L577.8,241.2 L578.8,241.0 L579.8,240.9 L580.8,241.3 L581.8,240.8 L582.8,240.8 L583.8,240.1 L584.8,240.2 L585.8,239.3 L586.8,239.3 L587.8,238.9 L588.8,238.8 L589.8,238.1 L590.8,237.5 L591.8,237.2 L592.8,236.4 L593.8,235.9 L594.8,235.3 L595.8,234.3 L596.8,233.5 L597.8,232.9 L598.8,231.9 L599.8,231.3 L600.8,230.7 L601.8,229.7 L602.8,228.4 L603.8,227.2 L604.8,226.6 L605.8,225.6 L606.8,224.9 L607.8,223.4 L608.8,222.4 L609.8,221.6 L610.8,220.1 L611.8,219.1 L612.8,218.5 L613.8,217.2 L614.8,215.7 L615.8,214.4 L616.8,212.7 L617.8,211.9 L618.8,210.4 L619.8,209.0 L620.8,207.4 L621.8,206.1 L622.8,204.6 L623.8,203.2 L624.8,201.9 L625.8,200.0 L626.8,197.7 L627.8,196.2 L628.8,194.2 L629.8,192.6 L630.8,191.1 L631.8,189.1 L632.8,186.8 L633.8,185.0 L634.8,182.5 L635.8,180.1 L636.8,177.8 L637.8,175.7 L638.8,173.9 L639.8,170.6 L640.8,168.9 L641.8,166.3 L642.8,163.2 L643.8,160.5 L644.8,157.6 L645.8,154.9 L646.8,152.2 L647.8,149.1 L648.8,146.5 L649.8,143.5 L650.8,140.3 L651.8,137.2 L652.8,134.1 L653.8,131.1 L654.8,127.7 L655.8,125.1 L656.8,122.0 L657.8,118.7 L658.8,116.7 L659.8,112.8 L660.8,110.0 L661.8,107.6 L662.8,104.2 L663.8,102.0 L664.8,99.3 L665.8,97.1 L666.8,95.0 L667.8,93.0 L668.8,91.3 L669.8,89.4 L670.8,87.8 L671.8,86.1 L672.8,84.4 L673.8,83.7 L674.8,82.3 L675.8,81.5 L676.8,81.5 L677.8,81.0 L678.8,80.6 L679.8,80.8 L680.8,81.1 L681.8,81.0 L682.8,82.2 L683.8,83.1 L684.8,85.1 L685.8,86.8 L686.8,89.8 L687.8,92.2 L688.8,94.7 L689.8,98.2 L690.8,101.4 L691.8,105.5 L692.8,109.7 L693.8,113.7 L694.8,117.4 L695.8,122.3 L696.8,127.1 L697.8,131.7 L698.8,136.7 L699.8,140.8 L700.8,146.1 L701.8,150.6 L702.8,155.7 L703.8,160.6 L704.8,165.5 L705.8,169.9 L706.8,174.8 L707.8,179.0 L708.8,183.5 L709.8,188.6 L710.8,192.8 L711.8,196.6 L712.8,201.0 L713.8,205.3 L714.8,209.8 L715.8,213.4 L716.8,217.1 L717.8,219.9 L718.8,223.8 L719.8,227.3 L720.8,230.4 L721.8,233.5 L722.8,236.2 L723.8,239.6 L724.8,242.1 L725.8,244.2 L726.8,246.3 L727.8,249.5 L728.8,250.8 L729.8,253.4 L730.8,255.5 L731.8,256.4 L732.8,258.5 L733.8,259.9 L734.8,261.6 L735.8,262.9 L736.8,264.7 L737.8,265.5 L738.8,266.5 L739.8,267.8 L740.8,268.4 L741.8,269.3 L742.8,270.9 L743.8,270.8 L744.8,271.6 L745.8,272.4 L746.8,272.7 L747.8,272.9 L748.8,274.4 L749.8,274.3 L750.8,274.8 L751.8,275.3 L752.8,275.5 L753.8,275.8 L754.8,276.5 L755.8,277.5 L756.8,277.3 L757.8,277.5 L758.8,277.1 L759.8,277.7 L760.8,277.6 L761.8,278.3 L762.8,278.2 L763.8,278.5 L764.8,278.6 L765.8,278.6 L766.8,278.4 L767.8,279.2 L768.8,278.7 L769.8,278.9 L770.8,279.2 L771.8,279.2 L772.8,279.6 L773.8,279.9 L774.8,279.7 L775.8,279.8 L776.8,279.8 L777.8,280.1 L778.8,279.4 L779.8,280.1 L780.8,279.8 L781.8,279.8 L782.8,280.2 L783.8,280.1 L784.8,280.5 L785.8,280.7 L786.8,279.7 L787.8,280.4 L788.8,281.1 L789.8,280.8 L790.8,281.0 L791.8,280.7 L792.8,280.2 L793.8,280.4 L794.8,281.0 L795.8,281.1 L796.8,280.6 L797.8,280.8 L798.8,281.0 L799.8,280.4" fill="none" stroke="#48e010" stroke-width="2" stroke-linejoin="round"/>
<path d="M449.8,264.8 L450.8,265.3 L451.8,265.4 L452.8,264.6 L453.8,265.1 L454.8,264.3 L455.8,264.1 L456.8,263.5 L457.8,264.4 L458.8,263.8 L459.8,264.5 L460.8,263.7 L461.8,263.5 L462.8,262.8 L463.8,263.6 L464.8,262.9 L465.8,262.7 L466.8,261.9 L467.8,262.6 L468.8,262.4 L469.8,261.7 L470.8,261.7 L471.8,261.5 L472.8,261.4 L473.8,260.8 L474.8,261.0 L475.8,260.1 L476.8,259.6 L477.8,259.3 L478.8,258.3 L479.8,258.5 L480.8,258.6 L481.8,258.0 L482.8,257.2 L483.8,257.1 L484.8,256.0 L485.8,256.0 L486.8,255.8 L487.8,255.3 L488.8,254.4 L489.8,254.3 L490.8,254.1 L491.8,252.9 L492.8,252.7 L493.8,251.4 L494.8,250.7 L495.8,250.9 L496.8,250.1 L497.8,249.6 L498.8,248.8 L499.8,248.3 L500.8,248.0 L501.8,247.7 L502.8,246.5 L503.8,245.5 L504.8,245.8 L505.8,245.0 L506.8,244.5 L507.8,243.8 L508.8,243.9 L509.8,242.7 L510.8,242.3 L511.8,241.1 L512.8,241.0 L513.8,240.5 L514.8,240.3 L515.8,240.0 L516.8,239.3 L517.8,239.7 L518.8,238.6 L519.8,238.5 L520.8,238.4 L521.8,237.7 L522.8,238.1 L523.8,238.0 L524.8,237.6 L525.8,238.1 L526.8,237.5 L527.8,237.6 L528.8,237.2 L529.8,237.1 L530.8,237.5 L531.8,237.7 L532.8,237.8 L533.8,238.3 L534.8,237.6 L535.8,238.2 L536.8,238.2 L537.8,239.4 L538.8,239.1 L539.8,239.4 L540.8,239.5 L541.8,240.5 L542.8,240.4 L543.8,240.9 L544.8,240.6 L545.8,242.0 L546.8,242.1 L547.8,242.6 L548.8,243.2 L549.8,243.1 L550.8,243.6 L551.8,244.2 L552.8,244.5 L553.8,244.7 L554.8,245.2 L555.8,245.5 L556.8,246.2 L557.8,246.7 L558.8,246.8 L559.8,247.7 L560.8,247.0 L561.8,247.7 L562.8,248.6 L563.8,248.3 L564.8,248.2 L565.8,249.3 L566.8,249.3 L567.8,249.0 L568.8,249.8 L569.8,249.4 L570.8,249.4 L571.8,249.8 L572.8,249.8 L573.8,249.6 L574.8,249.8 L575.8,249.6 L576.8,249.9 L577.8,249.7 L578.8,249.8 L579.8,249.3 L580.8,248.8 L581.8,248.6 L582.8,248.6 L583.8,248.8 L584.8,248.3 L585.8,247.5 L586.8,247.5 L587.8,246.4 L588.8,246.6 L589.8,245.7 L590.8,245.5 L591.8,244.9 L592.8,244.0 L593.8,243.5 L594.8,242.5 L595.8,242.1 L596.8,241.7 L597.8,241.9 L598.8,240.1 L599.8,239.1 L600.8,238.0 L601.8,237.8 L602.8,236.1 L603.8,235.5 L604.8,235.0 L605.8,233.6 L606.8,233.5 L607.8,232.5 L608.8,231.0 L609.8,230.1 L610.8,228.8 L611.8,227.8 L612.8,227.3 L613.8,226.3 L614.8,225.2 L615.8,224.1 L616.8,222.7 L617.8,221.9 L618.8,220.2 L619.8,219.4 L620.8,218.7 L621.8,217.4 L622.8,215.6 L623.8,214.3 L624.8,213.5 L625.8,212.2 L626.8,209.8 L627.8,208.7 L628.8,207.4 L629.8,206.2 L630.8,204.0 L631.8,202.8 L632.8,200.8 L633.8,199.9 L634.8,197.5 L635.8,195.5 L636.8,193.6 L637.8,192.0 L638.8,189.9 L639.8,187.3 L640.8,185.6 L641.8,183.0 L642.8,181.0 L643.8,178.6 L644.8,176.3 L645.8,174.1 L646.8,171.6 L647.8,169.7 L648.8,167.3 L649.8,164.5 L650.8,161.8 L651.8,159.8 L652.8,156.5 L653.8,154.0 L654.8,152.3 L655.8,149.7 L656.8,147.3 L657.8,144.5 L658.8,141.8 L659.8,139.6 L660.8,137.6 L661.8,134.9 L662.8,132.7 L663.8,130.3 L664.8,128.3 L665.8,127.0 L666.8,125.0 L667.8,122.7 L668.8,121.1 L669.8,119.8 L670.8,118.7 L671.8,116.9 L672.8,116.1 L673.8,114.6 L674.8,114.1 L675.8,114.0 L676.8,113.6 L677.8,112.7 L678.8,112.7 L679.8,113.3 L680.8,113.2 L681.8,113.5 L682.8,114.6 L683.8,115.5 L684.8,117.2 L685.8,118.7 L686.8,120.3 L687.8,122.7 L688.8,125.2 L689.8,127.6 L690.8,130.6 L691.8,134.4 L692.8,136.9 L693.8,141.2 L694.8,144.6 L695.8,148.2 L696.8,152.3 L697.8,156.2 L698.8,160.4 L699.8,163.9 L700.8,168.0 L701.8,172.1 L702.8,176.8 L703.8,180.5 L704.8,184.0 L705.8,188.2 L706.8,192.0 L707.8,196.1 L708.8,200.0 L709.8,204.4 L710.8,206.8 L711.8,211.3 L712.8,214.6 L713.8,217.7 L714.8,221.1 L715.8,224.3 L716.8,227.5 L717.8,230.8 L718.8,232.9 L719.8,236.6 L720.8,238.7 L721.8,241.8 L722.8,244.0 L723.8,246.5 L724.8,248.5 L725.8,250.8 L726.8,252.5 L727.8,254.1 L728.8,256.4 L729.8,258.1 L730.8,260.1 L731.8,260.4 L732.8,262.3 L733.8,264.0 L734.8,264.6 L735.8,266.0 L736.8,267.8 L737.8,268.6 L738.8,268.9 L739.8,270.4 L740.8,271.2 L741.8,271.8 L742.8,272.4 L743.8,273.0 L744.8,273.3 L745.8,273.9 L746.8,274.8 L747.8,275.1 L748.8,276.1 L749.8,275.8 L750.8,275.6 L751.8,276.5 L752.8,277.0 L753.8,277.4 L754.8,277.5 L755.8,277.5 L756.8,278.5 L757.8,278.0 L758.8,278.6 L759.8,278.5 L760.8,278.4 L761.8,279.3 L762.8,278.3 L763.8,278.9 L764.8,279.4 L765.8,279.3 L766.8,279.8 L767.8,279.6 L768.8,279.6 L769.8,280.5 L770.8,279.8 L771.8,279.9 L772.8,279.7 L773.8,279.9 L774.8,280.4 L775.8,280.4 L776.8,280.3 L777.8,280.2 L778.8,280.7 L779.8,280.0 L780.8,280.5 L781.8,280.5 L782.8,280.4 L783.8,280.7 L784.8,280.5 L785.8,280.5 L786.8,281.4 L787.8,281.1 L788.8,281.3 L789.8,281.0 L790.8,281.3 L791.8,281.3 L792.8,281.4 L793.8,281.8 L794.8,281.0 L795.8,281.2 L796.8,281.2 L797.8,280.2 L798.8,280.8 L799.8,281.3" fill="none" stroke="#d8f030" stroke-width="2" stroke-linejoin="round"/>
<path d="M449.8,267.4 L450.8,266.9 L451.8,267.3 L452.8,267.3 L453.8,266.7 L454.8,267.1 L455.8,267.1 L456.8,266.6 L457.8,266.1 L458.8,266.7 L459.8,266.1 L460.8,265.9 L461.8,265.9 L462.8,265.6 L463.8,265.9 L464.8,265.6 L465.8,265.6 L466.8,265.2 L467.8,264.6 L468.8,264.6 L469.8,264.7 L470.8,264.1 L471.8,264.8 L472.8,263.6 L473.8,263.3 L474.8,263.5 L475.8,263.1 L476.8,262.6 L477.8,262.2 L478.8,262.1 L479.8,261.8 L480.8,261.5 L481.8,260.8 L482.8,260.6 L483.8,260.3 L484.8,259.9 L485.8,258.3 L486.8,258.6 L487.8,258.1 L488.8,257.8 L489.8,257.5 L490.8,257.2 L491.8,256.7 L492.8,255.9 L493.8,255.5 L494.8,255.5 L495.8,254.3 L496.8,254.0 L497.8,253.9 L498.8,253.0 L499.8,251.7 L500.8,251.9 L501.8,251.1 L502.8,250.7 L503.8,250.5 L504.8,249.8 L505.8,249.1 L506.8,248.9 L507.8,248.3 L508.8,247.7 L509.8,247.3 L510.8,246.9 L511.8,246.2 L512.8,245.8 L513.8,245.5 L514.8,244.9 L515.8,244.4 L516.8,244.8 L517.8,244.1 L518.8,243.9 L519.8,243.6 L520.8,243.4 L521.8,243.2 L522.8,243.0 L523.8,242.6 L524.8,243.0 L525.8,242.5 L526.8,242.9 L527.8,242.0 L528.8,242.3 L529.8,243.0 L530.8,242.7 L531.8,242.7 L532.8,243.1 L533.8,242.8 L534.8,243.3 L535.8,242.8 L536.8,243.6 L537.8,243.8 L538.8,244.4 L539.8,244.7 L540.8,244.5 L541.8,245.5 L542.8,245.1 L543.8,245.0 L544.8,245.2 L545.8,246.7 L546.8,246.6 L547.8,246.8 L548.8,247.1 L549.8,247.4 L550.8,248.5 L551.8,248.4 L552.8,249.3 L553.8,249.1 L554.8,248.8 L555.8,250.1 L556.8,250.1 L557.8,250.5 L558.8,251.4 L559.8,251.2 L560.8,251.9 L561.8,251.8 L562.8,251.9 L563.8,252.6 L564.8,252.5 L565.8,253.3 L566.8,253.4 L567.8,253.3 L568.8,253.6 L569.8,253.8 L570.8,253.6 L571.8,254.1 L572.8,253.8 L573.8,254.1 L574.8,253.6 L575.8,253.9 L576.8,254.0 L577.8,253.5 L578.8,253.5 L579.8,253.4 L580.8,253.6 L581.8,252.9 L582.8,253.1 L583.8,253.1 L584.8,252.5 L585.8,251.6 L586.8,251.8 L587.8,251.6 L588.8,250.8 L589.8,250.8 L590.8,250.2 L591.8,249.7 L592.8,248.9 L593.8,248.3 L594.8,247.8 L595.8,247.4 L596.8,246.9 L597.8,246.2 L598.8,245.4 L599.8,244.8 L600.8,244.2 L601.8,242.9 L602.8,242.4 L603.8,241.7 L604.8,241.1 L605.8,240.3 L606.8,239.5 L607.8,238.5 L608.8,238.1 L609.8,237.1 L610.8,235.7 L611.8,235.3 L612.8,234.1 L613.8,234.0 L614.8,232.4 L615.8,231.5 L616.8,230.7 L617.8,229.6 L618.8,228.6 L619.8,228.1 L620.8,226.6 L621.8,225.7 L622.8,224.7 L623.8,222.9 L624.8,222.5 L625.8,221.0 L626.8,219.8 L627.8,218.0 L628.8,217.2 L629.8,215.7 L630.8,214.0 L631.8,213.4 L632.8,211.4 L633.8,209.6 L634.8,208.1 L635.8,206.7 L636.8,205.1 L637.8,203.2 L638.8,201.6 L639.8,199.9 L640.8,197.2 L641.8,195.5 L642.8,193.4 L643.8,191.7 L644.8,190.1 L645.8,187.8 L646.8,185.1 L647.8,183.2 L648.8,181.4 L649.8,178.8 L650.8,176.7 L651.8,174.6 L652.8,171.7 L653.8,170.2 L654.8,167.8 L655.8,165.7 L656.8,163.0 L657.8,160.9 L658.8,158.7 L659.8,156.9 L660.8,154.7 L661.8,152.7 L662.8,151.2 L663.8,149.2 L664.8,146.7 L665.8,145.0 L666.8,144.0 L667.8,141.9 L668.8,140.9 L669.8,139.6 L670.8,137.7 L671.8,136.7 L672.8,135.8 L673.8,134.7 L674.8,134.0 L675.8,133.6 L676.8,133.5 L677.8,132.9 L678.8,132.8 L679.8,132.8 L680.8,132.7 L681.8,134.0 L682.8,133.4 L683.8,134.9 L684.8,136.4 L685.8,137.3 L686.8,139.6 L687.8,141.8 L688.8,143.4 L689.8,146.1 L690.8,148.3 L691.8,151.6 L692.8,154.4 L693.8,157.6 L694.8,161.1 L695.8,164.1 L696.8,167.8 L697.8,171.0 L698.8,174.0 L699.8,178.0 L700.8,181.6 L701.8,184.6 L702.8,189.1 L703.8,192.2 L704.8,195.9 L705.8,199.0 L706.8,202.8 L707.8,206.3 L708.8,209.5 L709.8,213.0 L710.8,215.5 L711.8,219.8 L712.8,222.1 L713.8,224.8 L714.8,228.1 L715.8,231.0 L716.8,234.1 L717.8,236.4 L718.8,239.3 L719.8,241.3 L720.8,244.7 L721.8,246.4 L722.8,249.0 L723.8,250.2 L724.8,252.6 L725.8,254.0 L726.8,256.2 L727.8,257.9 L728.8,258.8 L729.8,260.5 L730.8,261.9 L731.8,263.1 L732.8,264.6 L733.8,265.7 L734.8,266.6 L735.8,268.1 L736.8,269.2 L737.8,269.5 L738.8,270.6 L739.8,271.5 L740.8,272.2 L741.8,272.7 L742.8,273.8 L743.8,274.4 L744.8,274.9 L745.8,275.1 L746.8,276.2 L747.8,276.5 L748.8,276.3 L749.8,276.7 L750.8,277.4 L751.8,277.2 L752.8,277.8 L753.8,277.9 L754.8,278.0 L755.8,278.3 L756.8,278.1 L757.8,278.6 L758.8,278.4 L759.8,279.8 L760.8,279.7 L761.8,279.8 L762.8,279.6 L763.8,279.9 L764.8,280.1 L765.8,280.2 L766.8,280.2 L767.8,279.8 L768.8,280.3 L769.8,280.0 L770.8,279.9 L771.8,280.0 L772.8,280.5 L773.8,280.8 L774.8,280.1 L775.8,281.1 L776.8,281.1 L777.8,280.6 L778.8,280.6 L779.8,280.8 L780.8,281.1 L781.8,280.8 L782.8,280.6 L783.8,281.1 L784.8,280.4 L785.8,281.1 L786.8,281.4 L787.8,281.2 L788.8,281.4 L789.8,281.3 L790.8,281.4 L791.8,281.3 L792.8,281.0 L793.8,281.2 L794.8,281.3 L795.8,281.7 L796.8,281.9 L797.8,281.5 L798.8,281.2 L799.8,281.3" fill="none" stroke="#ffb820" stroke-width="2" stroke-linejoin="round"/>
<path d="M449.8,273.5 L450.8,273.8 L451.8,273.3 L452.8,273.0 L453.8,272.5 L454.8,272.8 L455.8,272.4 L456.8,272.1 L457.8,271.9 L458.8,272.2 L459.8,271.4 L460.8,271.7 L461.8,271.4 L462.8,270.8 L463.8,270.8 L464.8,270.3 L465.8,269.9 L466.8,269.8 L467.8,269.4 L468.8,269.6 L469.8,269.2 L470.8,269.2 L471.8,269.0 L472.8,267.6 L473.8,268.4 L474.8,267.5 L475.8,267.9 L476.8,267.4 L477.8,267.4 L478.8,267.6 L479.8,266.5 L480.8,266.8 L481.8,266.5 L482.8,265.7 L483.8,266.3 L484.8,265.9 L485.8,265.5 L486.8,265.2 L487.8,266.2 L488.8,264.9 L489.8,264.3 L490.8,264.4 L491.8,264.3 L492.8,264.1 L493.8,264.0 L494.8,263.6 L495.8,263.8 L496.8,263.4 L497.8,262.9 L498.8,262.9 L499.8,262.9 L500.8,263.1 L501.8,262.8 L502.8,262.4 L503.8,262.3 L504.8,262.3 L505.8,262.7 L506.8,261.7 L507.8,261.9 L508.8,261.9 L509.8,261.2 L510.8,261.4 L511.8,261.3 L512.8,261.0 L513.8,261.2 L514.8,261.3 L515.8,261.2 L516.8,260.7 L517.8,260.7 L518.8,261.3 L519.8,260.2 L520.8,260.5 L521.8,260.7 L522.8,260.4 L523.8,260.5 L524.8,260.3 L525.8,260.4 L526.8,260.6 L527.8,260.1 L528.8,260.2 L529.8,260.1 L530.8,260.0 L531.8,260.1 L532.8,259.7 L533.8,260.3 L534.8,260.6 L535.8,260.6 L536.8,260.5 L537.8,259.9 L538.8,260.6 L539.8,260.0 L540.8,260.2 L541.8,260.8 L542.8,260.0 L543.8,260.6 L544.8,260.5 L545.8,260.4 L546.8,260.3 L547.8,260.7 L548.8,260.5 L549.8,261.0 L550.8,261.1 L551.8,260.4 L552.8,260.7 L553.8,260.9 L554.8,260.7 L555.8,260.7 L556.8,261.2 L557.8,261.1 L558.8,260.8 L559.8,261.1 L560.8,261.5 L561.8,261.0 L562.8,261.2 L563.8,261.9 L564.8,261.9 L565.8,261.0 L566.8,261.1 L567.8,261.6 L568.8,261.2 L569.8,261.4 L570.8,261.3 L571.8,261.6 L572.8,260.6 L573.8,260.7 L574.8,260.9 L575.8,261.5 L576.8,261.0 L577.8,260.5 L578.8,261.0 L579.8,260.9 L580.8,260.5 L581.8,260.3 L582.8,260.3 L583.8,260.3 L584.8,259.8 L585.8,259.6 L586.8,259.2 L587.8,258.8 L588.8,258.3 L589.8,258.3 L590.8,257.8 L591.8,257.5 L592.8,257.4 L593.8,256.9 L594.8,256.6 L595.8,255.4 L596.8,255.6 L597.8,254.7 L598.8,254.1 L599.8,253.6 L600.8,253.7 L601.8,253.0 L602.8,251.9 L603.8,251.2 L604.8,250.9 L605.8,250.2 L606.8,250.1 L607.8,248.5 L608.8,247.8 L609.8,247.5 L610.8,246.9 L611.8,246.2 L612.8,245.7 L613.8,245.3 L614.8,243.9 L615.8,243.1 L616.8,241.9 L617.8,241.8 L618.8,241.2 L619.8,240.1 L620.8,239.7 L621.8,238.6 L622.8,238.2 L623.8,237.1 L624.8,235.9 L625.8,235.2 L626.8,234.2 L627.8,233.3 L628.8,233.1 L629.8,232.5 L630.8,232.1 L631.8,230.7 L632.8,229.9 L633.8,228.8 L634.8,228.7 L635.8,227.7 L636.8,226.7 L637.8,226.3 L638.8,225.4 L639.8,223.9 L640.8,223.8 L641.8,222.8 L642.8,221.7 L643.8,220.8 L644.8,220.6 L645.8,219.6 L646.8,218.7 L647.8,216.9 L648.8,216.1 L649.8,215.6 L650.8,214.0 L651.8,213.2 L652.8,212.0 L653.8,212.1 L654.8,210.9 L655.8,209.8 L656.8,208.8 L657.8,207.7 L658.8,206.8 L659.8,206.2 L660.8,205.0 L661.8,204.7 L662.8,203.4 L663.8,202.5 L664.8,202.5 L665.8,201.3 L666.8,200.9 L667.8,200.0 L668.8,198.8 L669.8,199.1 L670.8,198.1 L671.8,198.4 L672.8,197.2 L673.8,196.8 L674.8,197.2 L675.8,197.0 L676.8,196.8 L677.8,196.3 L678.8,196.9 L679.8,196.3 L680.8,196.7 L681.8,196.8 L682.8,197.2 L683.8,197.8 L684.8,197.8 L685.8,198.6 L686.8,199.3 L687.8,199.3 L688.8,200.3 L689.8,201.5 L690.8,202.5 L691.8,203.9 L692.8,204.5 L693.8,206.7 L694.8,208.2 L695.8,209.5 L696.8,210.8 L697.8,212.9 L698.8,214.5 L699.8,216.7 L700.8,218.4 L701.8,220.6 L702.8,222.2 L703.8,224.8 L704.8,225.7 L705.8,228.1 L706.8,230.6 L707.8,232.0 L708.8,234.8 L709.8,236.2 L710.8,238.6 L711.8,240.2 L712.8,242.3 L713.8,244.4 L714.8,246.2 L715.8,247.9 L716.8,250.5 L717.8,251.5 L718.8,252.9 L719.8,255.1 L720.8,256.6 L721.8,258.2 L722.8,259.8 L723.8,260.4 L724.8,262.3 L725.8,263.6 L726.8,264.4 L727.8,265.6 L728.8,265.7 L729.8,267.5 L730.8,269.1 L731.8,269.0 L732.8,270.2 L733.8,271.3 L734.8,272.1 L735.8,273.1 L736.8,272.8 L737.8,273.9 L738.8,274.8 L739.8,274.7 L740.8,275.5 L741.8,276.6 L742.8,276.9 L743.8,277.0 L744.8,276.5 L745.8,277.6 L746.8,278.1 L747.8,278.2 L748.8,278.5 L749.8,279.7 L750.8,279.0 L751.8,279.0 L752.8,279.6 L753.8,279.6 L754.8,279.8 L755.8,280.0 L756.8,280.5 L757.8,280.5 L758.8,280.2 L759.8,280.6 L760.8,280.9 L761.8,280.8 L762.8,281.4 L763.8,281.4 L764.8,280.9 L765.8,281.4 L766.8,282.0 L767.8,282.0 L768.8,281.6 L769.8,281.9 L770.8,281.5 L771.8,281.3 L772.8,282.0 L773.8,282.0 L774.8,282.1 L775.8,282.0 L776.8,282.2 L777.8,282.0 L778.8,282.3 L779.8,282.4 L780.8,282.2 L781.8,282.5 L782.8,281.8 L783.8,282.1 L784.8,282.8 L785.8,282.9 L786.8,282.5 L787.8,282.5 L788.8,282.1 L789.8,282.6 L790.8,282.8 L791.8,282.1 L792.8,282.8 L793.8,282.8 L794.8,282.8 L795.8,282.3 L796.8,282.9 L797.8,282.3 L798.8,283.2 L799.8,282.8" fill="none" stroke="#ff1020" stroke-width="2" stroke-linejoin="round"/>
<path d="M449.8,274.5 L450.8,275.1 L451.8,274.8 L452.8,274.1 L453.8,274.8 L454.8,273.6 L455.8,273.9 L456.8,273.9 L457.8,272.7 L458.8,273.5 L459.8,273.0 L460.8,272.8 L461.8,272.3 L462.8,272.5 L463.8,271.9 L464.8,271.7 L465.8,271.7 L466.8,271.3 L467.8,271.9 L468.8,270.9 L469.8,270.8 L470.8,270.8 L471.8,270.7 L472.8,270.7 L473.8,270.5 L474.8,270.0 L475.8,269.8 L476.8,269.7 L477.8,269.7 L478.8,269.5 L479.8,269.0 L480.8,268.3 L481.8,269.4 L482.8,268.8 L483.8,268.4 L484.8,268.3 L485.8,267.8 L486.8,267.5 L487.8,267.5 L488.8,267.4 L489.8,267.1 L490.8,266.7 L491.8,266.8 L492.8,266.9 L493.8,266.4 L494.8,266.4 L495.8,265.6 L496.8,266.0 L497.8,265.9 L498.8,265.4 L499.8,265.1 L500.8,265.6 L501.8,265.1 L502.8,265.4 L503.8,265.0 L504.8,265.2 L505.8,264.7 L506.8,264.3 L507.8,264.6 L508.8,264.4 L509.8,264.6 L510.8,264.1 L511.8,264.1 L512.8,264.3 L513.8,264.3 L514.8,264.1 L515.8,264.1 L516.8,263.9 L517.8,263.9 L518.8,263.9 L519.8,263.7 L520.8,263.5 L521.8,263.5 L522.8,264.1 L523.8,263.3 L524.8,263.2 L525.8,263.1 L526.8,263.2 L527.8,263.3 L528.8,262.8 L529.8,262.6 L530.8,263.2 L531.8,262.7 L532.8,263.2 L533.8,263.2 L534.8,263.5 L535.8,263.7 L536.8,263.3 L537.8,263.0 L538.8,262.9 L539.8,263.0 L540.8,263.3 L541.8,262.7 L542.8,263.4 L543.8,263.4 L544.8,263.6 L545.8,263.3 L546.8,263.5 L547.8,263.3 L548.8,263.4 L549.8,263.1 L550.8,263.7 L551.8,264.2 L552.8,263.8 L553.8,263.9 L554.8,263.6 L555.8,264.3 L556.8,263.7 L557.8,264.2 L558.8,264.1 L559.8,263.8 L560.8,264.4 L561.8,264.1 L562.8,264.2 L563.8,264.3 L564.8,264.1 L565.8,264.0 L566.8,264.3 L567.8,264.0 L568.8,264.1 L569.8,263.8 L570.8,263.6 L571.8,263.7 L572.8,263.7 L573.8,263.8 L574.8,264.1 L575.8,263.1 L576.8,263.5 L577.8,262.7 L578.8,262.9 L579.8,262.9 L580.8,262.2 L581.8,262.1 L582.8,262.5 L583.8,262.2 L584.8,261.9 L585.8,261.4 L586.8,262.0 L587.8,261.0 L588.8,260.5 L589.8,260.9 L590.8,260.2 L591.8,259.6 L592.8,259.6 L593.8,258.9 L594.8,258.6 L595.8,258.0 L596.8,257.2 L597.8,257.3 L598.8,256.5 L599.8,255.7 L600.8,255.2 L601.8,255.2 L602.8,254.2 L603.8,253.7 L604.8,253.3 L605.8,252.5 L606.8,251.4 L607.8,251.4 L608.8,250.9 L609.8,250.2 L610.8,249.8 L611.8,248.7 L612.8,248.2 L613.8,247.8 L614.8,246.5 L615.8,246.5 L616.8,245.8 L617.8,244.8 L618.8,244.4 L619.8,243.5 L620.8,242.3 L621.8,242.2 L622.8,241.3 L623.8,240.7 L624.8,239.9 L625.8,239.7 L626.8,238.8 L627.8,237.8 L628.8,237.5 L629.8,237.0 L630.8,235.9 L631.8,235.5 L632.8,234.9 L633.8,234.3 L634.8,234.0 L635.8,233.7 L636.8,233.4 L637.8,232.7 L638.8,232.1 L639.8,231.5 L640.8,231.0 L641.8,229.9 L642.8,229.6 L643.8,228.9 L644.8,228.2 L645.8,227.5 L646.8,226.8 L647.8,226.3 L648.8,225.4 L649.8,225.3 L650.8,224.5 L651.8,223.9 L652.8,223.3 L653.8,222.8 L654.8,221.8 L655.8,221.4 L656.8,220.3 L657.8,219.6 L658.8,219.1 L659.8,219.6 L660.8,218.0 L661.8,218.2 L662.8,218.0 L663.8,217.0 L664.8,217.2 L665.8,216.8 L666.8,216.2 L667.8,216.2 L668.8,215.4 L669.8,214.7 L670.8,214.8 L671.8,214.3 L672.8,213.9 L673.8,213.8 L674.8,214.8 L675.8,213.9 L676.8,214.0 L677.8,213.9 L678.8,214.2 L679.8,214.3 L680.8,214.4 L681.8,214.4 L682.8,214.6 L683.8,215.2 L684.8,215.9 L685.8,216.9 L686.8,217.1 L687.8,218.0 L688.8,218.3 L689.8,218.9 L690.8,219.4 L691.8,220.8 L692.8,221.2 L693.8,222.8 L694.8,224.6 L695.8,225.4 L696.8,226.9 L697.8,227.8 L698.8,228.9 L699.8,230.6 L700.8,232.1 L701.8,234.1 L702.8,235.8 L703.8,236.6 L704.8,238.2 L705.8,239.9 L706.8,241.4 L707.8,242.7 L708.8,244.6 L709.8,246.3 L710.8,247.8 L711.8,248.8 L712.8,250.6 L713.8,251.6 L714.8,253.8 L715.8,254.7 L716.8,256.2 L717.8,257.5 L718.8,258.7 L719.8,259.8 L720.8,260.8 L721.8,263.0 L722.8,263.7 L723.8,264.8 L724.8,266.3 L725.8,266.6 L726.8,267.8 L727.8,268.5 L728.8,269.7 L729.8,270.3 L730.8,271.0 L731.8,271.5 L732.8,272.3 L733.8,273.2 L734.8,272.9 L735.8,274.0 L736.8,274.5 L737.8,275.0 L738.8,275.0 L739.8,276.2 L740.8,276.2 L741.8,276.7 L742.8,277.0 L743.8,277.0 L744.8,277.7 L745.8,277.6 L746.8,278.1 L747.8,278.6 L748.8,278.9 L749.8,279.1 L750.8,279.3 L751.8,280.2 L752.8,279.9 L753.8,279.5 L754.8,279.9 L755.8,280.0 L756.8,280.3 L757.8,280.3 L758.8,280.4 L759.8,281.3 L760.8,280.9 L761.8,280.9 L762.8,281.0 L763.8,281.1 L764.8,281.7 L765.8,281.5 L766.8,281.8 L767.8,280.6 L768.8,281.7 L769.8,282.0 L770.8,282.3 L771.8,281.8 L772.8,281.4 L773.8,282.1 L774.8,281.8 L775.8,281.5 L776.8,281.9 L777.8,282.4 L778.8,282.5 L779.8,282.4 L780.8,281.9 L781.8,283.1 L782.8,282.0 L783.8,282.3 L784.8,282.0 L785.8,282.8 L786.8,282.6 L787.8,282.8 L788.8,282.6 L789.8,282.5 L790.8,282.6 L791.8,282.0 L792.8,282.9 L793.8,282.9 L794.8,282.5 L795.8,282.7 L796.8,282.8 L797.8,283.2 L798.8,282.9 L799.8,282.8" fill="none" stroke="#ff1020" stroke-width="2" stroke-linejoin="round"/>
<path d="M449.8,276.3 L450.8,275.8 L451.8,276.0 L452.8,276.0 L453.8,275.8 L454.8,275.7 L455.8,275.8 L456.8,275.5 L457.8,275.3 L458.8,275.3 L459.8,275.0 L460.8,274.8 L461.8,274.8 L462.8,273.9 L463.8,274.7 L464.8,273.8 L465.8,274.2 L466.8,273.8 L467.8,274.0 L468.8,273.5 L469.8,273.1 L470.8,273.5 L471.8,273.1 L472.8,272.9 L473.8,272.7 L474.8,272.9 L475.8,272.6 L476.8,272.3 L477.8,271.6 L478.8,271.8 L479.8,271.8 L480.8,272.2 L481.8,271.6 L482.8,271.3 L483.8,271.5 L484.8,271.0 L485.8,270.9 L486.8,270.8 L487.8,270.1 L488.8,270.7 L489.8,270.4 L490.8,270.1 L491.8,269.7 L492.8,269.9 L493.8,270.2 L494.8,269.4 L495.8,269.2 L496.8,269.5 L497.8,268.7 L498.8,268.4 L499.8,268.8 L500.8,268.7 L501.8,268.7 L502.8,268.5 L503.8,268.6 L504.8,268.4 L505.8,268.1 L506.8,268.1 L507.8,268.3 L508.8,268.3 L509.8,268.2 L510.8,268.1 L511.8,266.8 L512.8,267.4 L513.8,267.5 L514.8,267.6 L515.8,267.0 L516.8,267.9 L517.8,267.5 L518.8,267.1 L519.8,267.3 L520.8,267.1 L521.8,266.9 L522.8,267.3 L523.8,267.0 L524.8,266.6 L525.8,266.8 L526.8,267.0 L527.8,266.7 L528.8,267.3 L529.8,266.6 L530.8,267.5 L531.8,267.2 L532.8,266.6 L533.8,267.0 L534.8,267.3 L535.8,266.9 L536.8,266.6 L537.8,267.0 L538.8,267.6 L539.8,266.5 L540.8,267.2 L541.8,267.0 L542.8,267.0 L543.8,266.9 L544.8,267.0 L545.8,267.4 L546.8,267.3 L547.8,266.9 L548.8,267.6 L549.8,266.8 L550.8,267.4 L551.8,267.3 L552.8,267.6 L553.8,267.4 L554.8,267.6 L555.8,267.3 L556.8,267.6 L557.8,267.4 L558.8,268.0 L559.8,267.1 L560.8,267.7 L561.8,267.5 L562.8,267.3 L563.8,267.1 L564.8,267.4 L565.8,266.7 L566.8,266.7 L567.8,267.3 L568.8,266.5 L569.8,267.3 L570.8,266.7 L571.8,266.8 L572.8,266.6 L573.8,266.5 L574.8,266.2 L575.8,266.0 L576.8,265.9 L577.8,266.0 L578.8,265.8 L579.8,265.7 L580.8,265.1 L581.8,264.7 L582.8,264.0 L583.8,264.4 L584.8,264.1 L585.8,263.4 L586.8,263.4 L587.8,263.1 L588.8,262.4 L589.8,262.3 L590.8,261.6 L591.8,260.5 L592.8,260.4 L593.8,260.0 L594.8,259.7 L595.8,258.8 L596.8,258.4 L597.8,257.6 L598.8,257.3 L599.8,256.8 L600.8,256.4 L601.8,255.8 L602.8,255.0 L603.8,254.3 L604.8,253.6 L605.8,253.0 L606.8,252.8 L607.8,250.9 L608.8,250.9 L609.8,250.4 L610.8,249.9 L611.8,248.6 L612.8,248.3 L613.8,247.8 L614.8,246.8 L615.8,245.7 L616.8,245.5 L617.8,244.6 L618.8,244.5 L619.8,243.4 L620.8,243.6 L621.8,242.5 L622.8,241.7 L623.8,241.2 L624.8,240.5 L625.8,240.4 L626.8,240.3 L627.8,239.3 L628.8,239.2 L629.8,238.2 L630.8,238.2 L631.8,238.4 L632.8,237.0 L633.8,237.4 L634.8,237.1 L635.8,235.9 L636.8,235.8 L637.8,235.7 L638.8,236.1 L639.8,235.4 L640.8,235.2 L641.8,235.2 L642.8,234.8 L643.8,234.6 L644.8,234.2 L645.8,234.4 L646.8,233.6 L647.8,234.1 L648.8,233.3 L649.8,232.9 L650.8,233.1 L651.8,232.9 L652.8,231.9 L653.8,232.4 L654.8,231.7 L655.8,231.7 L656.8,232.0 L657.8,231.4 L658.8,231.6 L659.8,231.2 L660.8,231.8 L661.8,231.1 L662.8,230.7 L663.8,230.6 L664.8,230.7 L665.8,230.9 L666.8,230.9 L667.8,231.2 L668.8,231.0 L669.8,231.0 L670.8,231.1 L671.8,231.1 L672.8,231.3 L673.8,231.6 L674.8,231.8 L675.8,231.6 L676.8,231.4 L677.8,231.9 L678.8,232.5 L679.8,232.0 L680.8,232.9 L681.8,233.5 L682.8,233.6 L683.8,233.9 L684.8,235.2 L685.8,235.5 L686.8,235.5 L687.8,236.6 L688.8,237.2 L689.8,237.1 L690.8,238.9 L691.8,238.6 L692.8,239.6 L693.8,240.1 L694.8,241.3 L695.8,241.8 L696.8,243.1 L697.8,244.3 L698.8,245.0 L699.8,245.9 L700.8,247.4 L701.8,247.7 L702.8,249.3 L703.8,249.9 L704.8,251.1 L705.8,252.1 L706.8,253.2 L707.8,254.1 L708.8,255.0 L709.8,256.0 L710.8,257.4 L711.8,258.2 L712.8,258.8 L713.8,259.9 L714.8,260.9 L715.8,262.0 L716.8,263.0 L717.8,263.8 L718.8,264.5 L719.8,265.5 L720.8,265.9 L721.8,266.2 L722.8,267.8 L723.8,268.0 L724.8,268.9 L725.8,269.5 L726.8,270.7 L727.8,270.8 L728.8,271.8 L729.8,272.1 L730.8,272.4 L731.8,272.8 L732.8,273.9 L733.8,274.4 L734.8,274.9 L735.8,275.7 L736.8,275.6 L737.8,276.0 L738.8,276.2 L739.8,276.6 L740.8,276.8 L741.8,276.9 L742.8,278.1 L743.8,277.2 L744.8,278.1 L745.8,278.4 L746.8,278.5 L747.8,278.4 L748.8,278.9 L749.8,279.0 L750.8,279.0 L751.8,279.5 L752.8,279.5 L753.8,279.6 L754.8,280.2 L755.8,279.8 L756.8,280.4 L757.8,280.2 L758.8,280.6 L759.8,280.6 L760.8,280.8 L761.8,280.6 L762.8,280.7 L763.8,280.8 L764.8,281.2 L765.8,281.5 L766.8,281.6 L767.8,281.2 L768.8,281.5 L769.8,281.1 L770.8,281.0 L771.8,281.4 L772.8,281.6 L773.8,281.3 L774.8,281.3 L775.8,282.1 L776.8,281.7 L777.8,281.5 L778.8,282.8 L779.8,282.2 L780.8,282.1 L781.8,282.4 L782.8,282.0 L783.8,282.8 L784.8,281.9 L785.8,282.0 L786.8,282.4 L787.8,282.2 L788.8,282.9 L789.8,282.0 L790.8,282.3 L791.8,282.6 L792.8,282.7 L793.8,282.9 L794.8,282.7 L795.8,283.3 L796.8,282.5 L797.8,282.7 L798.8,282.9 L799.8,282.6" fill="none" stroke="#ff1428" stroke-width="2" stroke-linejoin="round"/>
<line x1="33.00" y1="22.00" x2="385.30" y2="22.00" stroke="#111" stroke-width="1.8"/>
<line x1="38.80" y1="21.10" x2="38.80" y2="294.50" stroke="#111" stroke-width="1.8"/>
<line x1="33.00" y1="293.60" x2="385.30" y2="293.60" stroke="#111" stroke-width="1.8"/>
<line x1="384.40" y1="21.10" x2="384.40" y2="294.50" stroke="#111" stroke-width="1.8"/>
<line x1="33.00" y1="46.69" x2="38.80" y2="46.69" stroke="#111" stroke-width="1.6"/>
<line x1="33.00" y1="71.38" x2="38.80" y2="71.38" stroke="#111" stroke-width="1.6"/>
<line x1="33.00" y1="96.07" x2="38.80" y2="96.07" stroke="#111" stroke-width="1.6"/>
<line x1="33.00" y1="120.76" x2="38.80" y2="120.76" stroke="#111" stroke-width="1.6"/>
<line x1="33.00" y1="145.45" x2="38.80" y2="145.45" stroke="#111" stroke-width="1.6"/>
<line x1="33.00" y1="170.15" x2="38.80" y2="170.15" stroke="#111" stroke-width="1.6"/>
<line x1="33.00" y1="194.84" x2="38.80" y2="194.84" stroke="#111" stroke-width="1.6"/>
<line x1="33.00" y1="219.53" x2="38.80" y2="219.53" stroke="#111" stroke-width="1.6"/>
<line x1="33.00" y1="244.22" x2="38.80" y2="244.22" stroke="#111" stroke-width="1.6"/>
<line x1="33.00" y1="268.91" x2="38.80" y2="268.91" stroke="#111" stroke-width="1.6"/>
<line x1="36.00" y1="34.35" x2="38.80" y2="34.35" stroke="#111" stroke-width="1.5"/>
<line x1="36.00" y1="59.04" x2="38.80" y2="59.04" stroke="#111" stroke-width="1.5"/>
<line x1="36.00" y1="83.73" x2="38.80" y2="83.73" stroke="#111" stroke-width="1.5"/>
<line x1="36.00" y1="108.42" x2="38.80" y2="108.42" stroke="#111" stroke-width="1.5"/>
<line x1="36.00" y1="133.11" x2="38.80" y2="133.11" stroke="#111" stroke-width="1.5"/>
<line x1="36.00" y1="157.80" x2="38.80" y2="157.80" stroke="#111" stroke-width="1.5"/>
<line x1="36.00" y1="182.49" x2="38.80" y2="182.49" stroke="#111" stroke-width="1.5"/>
<line x1="36.00" y1="207.18" x2="38.80" y2="207.18" stroke="#111" stroke-width="1.5"/>
<line x1="36.00" y1="231.87" x2="38.80" y2="231.87" stroke="#111" stroke-width="1.5"/>
<line x1="36.00" y1="256.56" x2="38.80" y2="256.56" stroke="#111" stroke-width="1.5"/>
<line x1="36.00" y1="281.25" x2="38.80" y2="281.25" stroke="#111" stroke-width="1.5"/>
<line x1="57.60" y1="293.60" x2="57.60" y2="300.10" stroke="#111" stroke-width="1.6"/>
<line x1="80.94" y1="293.60" x2="80.94" y2="297.10" stroke="#111" stroke-width="1.5"/>
<text x="0" y="0" transform="translate(57.60,312.80) rotate(0) scale(0.93,1.1)" font-size="11" font-weight="400" text-anchor="middle" fill="#111" >1,70</text>
<line x1="104.27" y1="293.60" x2="104.27" y2="300.10" stroke="#111" stroke-width="1.6"/>
<line x1="127.61" y1="293.60" x2="127.61" y2="297.10" stroke="#111" stroke-width="1.5"/>
<text x="0" y="0" transform="translate(104.27,312.80) rotate(0) scale(0.93,1.1)" font-size="11" font-weight="400" text-anchor="middle" fill="#111" >1,75</text>
<line x1="150.94" y1="293.60" x2="150.94" y2="300.10" stroke="#111" stroke-width="1.6"/>
<line x1="174.28" y1="293.60" x2="174.28" y2="297.10" stroke="#111" stroke-width="1.5"/>
<text x="0" y="0" transform="translate(150.94,312.80) rotate(0) scale(0.93,1.1)" font-size="11" font-weight="400" text-anchor="middle" fill="#111" >1,80</text>
<line x1="197.61" y1="293.60" x2="197.61" y2="300.10" stroke="#111" stroke-width="1.6"/>
<line x1="220.94" y1="293.60" x2="220.94" y2="297.10" stroke="#111" stroke-width="1.5"/>
<text x="0" y="0" transform="translate(197.61,312.80) rotate(0) scale(0.93,1.1)" font-size="11" font-weight="400" text-anchor="middle" fill="#111" >1,85</text>
<line x1="244.28" y1="293.60" x2="244.28" y2="300.10" stroke="#111" stroke-width="1.6"/>
<line x1="267.62" y1="293.60" x2="267.62" y2="297.10" stroke="#111" stroke-width="1.5"/>
<text x="0" y="0" transform="translate(244.28,312.80) rotate(0) scale(0.93,1.1)" font-size="11" font-weight="400" text-anchor="middle" fill="#111" >1,90</text>
<line x1="290.95" y1="293.60" x2="290.95" y2="300.10" stroke="#111" stroke-width="1.6"/>
<line x1="314.29" y1="293.60" x2="314.29" y2="297.10" stroke="#111" stroke-width="1.5"/>
<text x="0" y="0" transform="translate(290.95,312.80) rotate(0) scale(0.93,1.1)" font-size="11" font-weight="400" text-anchor="middle" fill="#111" >1,95</text>
<line x1="337.62" y1="293.60" x2="337.62" y2="300.10" stroke="#111" stroke-width="1.6"/>
<line x1="360.95" y1="293.60" x2="360.95" y2="297.10" stroke="#111" stroke-width="1.5"/>
<text x="0" y="0" transform="translate(337.62,312.80) rotate(0) scale(0.93,1.1)" font-size="11" font-weight="400" text-anchor="middle" fill="#111" >2,00</text>
<line x1="384.29" y1="293.60" x2="384.29" y2="300.10" stroke="#111" stroke-width="1.6"/>
<text x="0" y="0" transform="translate(384.29,312.80) rotate(0) scale(0.93,1.1)" font-size="11" font-weight="400" text-anchor="middle" fill="#111" >2,05</text>
<line x1="801.10" y1="21.60" x2="806.30" y2="21.60" stroke="#111" stroke-width="1.8"/>
<line x1="443.00" y1="21.60" x2="802.00" y2="21.60" stroke="#111" stroke-width="1.8"/>
<line x1="448.80" y1="20.70" x2="448.80" y2="295.10" stroke="#111" stroke-width="1.8"/>
<line x1="443.00" y1="294.20" x2="802.00" y2="294.20" stroke="#111" stroke-width="1.8"/>
<line x1="801.10" y1="20.70" x2="801.10" y2="295.10" stroke="#111" stroke-width="1.8"/>
<line x1="443.00" y1="89.75" x2="448.80" y2="89.75" stroke="#111" stroke-width="1.6"/>
<line x1="443.00" y1="157.90" x2="448.80" y2="157.90" stroke="#111" stroke-width="1.6"/>
<line x1="443.00" y1="226.05" x2="448.80" y2="226.05" stroke="#111" stroke-width="1.6"/>
<line x1="446.00" y1="55.67" x2="448.80" y2="55.67" stroke="#111" stroke-width="1.5"/>
<line x1="446.00" y1="123.82" x2="448.80" y2="123.82" stroke="#111" stroke-width="1.5"/>
<line x1="446.00" y1="191.97" x2="448.80" y2="191.97" stroke="#111" stroke-width="1.5"/>
<line x1="446.00" y1="260.12" x2="448.80" y2="260.12" stroke="#111" stroke-width="1.5"/>
<line x1="467.60" y1="294.20" x2="467.60" y2="300.70" stroke="#111" stroke-width="1.6"/>
<line x1="491.42" y1="294.20" x2="491.42" y2="297.70" stroke="#111" stroke-width="1.5"/>
<text x="0" y="0" transform="translate(467.60,312.80) rotate(0) scale(0.93,1.1)" font-size="11" font-weight="400" text-anchor="middle" fill="#111" >1,70</text>
<line x1="515.24" y1="294.20" x2="515.24" y2="300.70" stroke="#111" stroke-width="1.6"/>
<line x1="539.06" y1="294.20" x2="539.06" y2="297.70" stroke="#111" stroke-width="1.5"/>
<text x="0" y="0" transform="translate(515.24,312.80) rotate(0) scale(0.93,1.1)" font-size="11" font-weight="400" text-anchor="middle" fill="#111" >1,75</text>
<line x1="562.88" y1="294.20" x2="562.88" y2="300.70" stroke="#111" stroke-width="1.6"/>
<line x1="586.70" y1="294.20" x2="586.70" y2="297.70" stroke="#111" stroke-width="1.5"/>
<text x="0" y="0" transform="translate(562.88,312.80) rotate(0) scale(0.93,1.1)" font-size="11" font-weight="400" text-anchor="middle" fill="#111" >1,80</text>
<line x1="610.52" y1="294.20" x2="610.52" y2="300.70" stroke="#111" stroke-width="1.6"/>
<line x1="634.34" y1="294.20" x2="634.34" y2="297.70" stroke="#111" stroke-width="1.5"/>
<text x="0" y="0" transform="translate(610.52,312.80) rotate(0) scale(0.93,1.1)" font-size="11" font-weight="400" text-anchor="middle" fill="#111" >1,85</text>
<line x1="658.16" y1="294.20" x2="658.16" y2="300.70" stroke="#111" stroke-width="1.6"/>
<line x1="681.98" y1="294.20" x2="681.98" y2="297.70" stroke="#111" stroke-width="1.5"/>
<text x="0" y="0" transform="translate(658.16,312.80) rotate(0) scale(0.93,1.1)" font-size="11" font-weight="400" text-anchor="middle" fill="#111" >1,90</text>
<line x1="705.80" y1="294.20" x2="705.80" y2="300.70" stroke="#111" stroke-width="1.6"/>
<line x1="729.62" y1="294.20" x2="729.62" y2="297.70" stroke="#111" stroke-width="1.5"/>
<text x="0" y="0" transform="translate(705.80,312.80) rotate(0) scale(0.93,1.1)" font-size="11" font-weight="400" text-anchor="middle" fill="#111" >1,95</text>
<line x1="753.44" y1="294.20" x2="753.44" y2="300.70" stroke="#111" stroke-width="1.6"/>
<line x1="777.26" y1="294.20" x2="777.26" y2="297.70" stroke="#111" stroke-width="1.5"/>
<text x="0" y="0" transform="translate(753.44,312.80) rotate(0) scale(0.93,1.1)" font-size="11" font-weight="400" text-anchor="middle" fill="#111" >2,00</text>
<line x1="801.08" y1="294.20" x2="801.08" y2="300.70" stroke="#111" stroke-width="1.6"/>
<text x="0" y="0" transform="translate(801.08,312.80) rotate(0) scale(0.93,1.1)" font-size="11" font-weight="400" text-anchor="middle" fill="#111" >2,05</text>
<text x="0" y="0" transform="translate(211.80,335.60) rotate(0) scale(1.0,1.13)" font-size="12.6" font-weight="700" text-anchor="middle" fill="#111" >Photon Energy (eV)</text>
<text x="0" y="0" transform="translate(624.10,341.70) rotate(0) scale(1.0,1.13)" font-size="12.9" font-weight="700" text-anchor="middle" fill="#111" >Photon Energy (eV)</text>
<text x="0" y="0" transform="translate(12.20,157.50) rotate(-90) scale(1.0,1.0)" font-size="14.6" font-weight="700" text-anchor="middle" fill="#111" >Normalized Intensity (a.u)</text>
<text x="0" y="0" transform="translate(416.10,151.40) rotate(-90) scale(1.0,1.0)" font-size="14.6" font-weight="700" text-anchor="middle" fill="#111" >Normalized Intensity (a.u)</text>
<text x="0" y="0" transform="translate(4.30,15.00) rotate(0) scale(0.8,1.0)" font-size="17" font-weight="700" text-anchor="start" fill="#111" stroke="#111" stroke-width="0.5">a</text>
<text x="0" y="0" transform="translate(13.00,14.20) rotate(0) scale(0.9,1.0)" font-size="16.5" font-weight="700" text-anchor="start" fill="#111" stroke="#111" stroke-width="0.25">)</text>
<text x="0" y="0" transform="translate(416.80,14.80) rotate(0) scale(0.76,1.0)" font-size="16.5" font-weight="700" text-anchor="start" fill="#111" stroke="#111" stroke-width="0.5">b</text>
<text x="0" y="0" transform="translate(425.30,14.50) rotate(0) scale(0.9,1.0)" font-size="16.5" font-weight="700" text-anchor="start" fill="#111" stroke="#111" stroke-width="0.25">)</text>
<text x="0" y="0" transform="translate(678.00,34.70) rotate(0) scale(0.82,1.0)" font-size="11" font-weight="700" text-anchor="middle" fill="#111" stroke="#111" stroke-width="0.35">P1</text>
<text x="0" y="0" transform="translate(520.60,201.60) rotate(0) scale(0.82,1.0)" font-size="11" font-weight="700" text-anchor="middle" fill="#111" stroke="#111" stroke-width="0.35">P2</text>
<line x1="78.00" y1="54.50" x2="106.20" y2="54.50" stroke="#7020e0" stroke-width="1.8"/>
<text x="0" y="0" transform="translate(139.60,58.80) rotate(0) scale(1.0,1.08)" font-size="12" font-weight="400" text-anchor="end" fill="#111" >15 K</text>
<line x1="78.00" y1="70.50" x2="106.20" y2="70.50" stroke="#1a24f0" stroke-width="1.8"/>
<text x="0" y="0" transform="translate(139.60,74.80) rotate(0) scale(1.0,1.08)" font-size="12" font-weight="400" text-anchor="end" fill="#111" >30 K</text>
<line x1="78.00" y1="86.50" x2="106.20" y2="86.50" stroke="#90f6f4" stroke-width="1.8"/>
<text x="0" y="0" transform="translate(139.60,90.80) rotate(0) scale(1.0,1.08)" font-size="12" font-weight="400" text-anchor="end" fill="#111" >60 K</text>
<line x1="78.00" y1="102.50" x2="106.20" y2="102.50" stroke="#50e400" stroke-width="1.8"/>
<text x="0" y="0" transform="translate(139.60,106.80) rotate(0) scale(1.0,1.08)" font-size="12" font-weight="400" text-anchor="end" fill="#111" >90 K</text>
<line x1="78.00" y1="118.50" x2="106.20" y2="118.50" stroke="#d8f020" stroke-width="1.8"/>
<text x="0" y="0" transform="translate(139.60,122.80) rotate(0) scale(1.0,1.08)" font-size="12" font-weight="400" text-anchor="end" fill="#111" >120 K</text>
<line x1="78.00" y1="134.50" x2="106.20" y2="134.50" stroke="#ff8462" stroke-width="1.8"/>
<text x="0" y="0" transform="translate(139.60,138.80) rotate(0) scale(1.0,1.08)" font-size="12" font-weight="400" text-anchor="end" fill="#111" >150 K</text>
<line x1="78.00" y1="150.50" x2="106.20" y2="150.50" stroke="#ff1020" stroke-width="1.8"/>
<text x="0" y="0" transform="translate(139.60,154.80) rotate(0) scale(1.0,1.08)" font-size="12" font-weight="400" text-anchor="end" fill="#111" >200 K</text>
<line x1="78.00" y1="166.50" x2="106.20" y2="166.50" stroke="#f41030" stroke-width="1.8"/>
<text x="0" y="0" transform="translate(139.60,170.80) rotate(0) scale(1.0,1.08)" font-size="12" font-weight="400" text-anchor="end" fill="#111" >250 K</text>
<line x1="78.00" y1="182.50" x2="106.20" y2="182.50" stroke="#b01024" stroke-width="1.8"/>
<text x="0" y="0" transform="translate(139.60,186.80) rotate(0) scale(1.0,1.08)" font-size="12" font-weight="400" text-anchor="end" fill="#111" >300 K</text>
<line x1="503.50" y1="46.90" x2="526.80" y2="46.90" stroke="#2030e8" stroke-width="1.8"/>
<text x="0" y="0" transform="translate(554.00,50.60) rotate(0) scale(0.94,1.08)" font-size="10.2" font-weight="700" text-anchor="end" fill="#111" >15 K</text>
<line x1="503.50" y1="60.32" x2="526.80" y2="60.32" stroke="#70f2f2" stroke-width="1.8"/>
<text x="0" y="0" transform="translate(554.00,64.02) rotate(0) scale(0.94,1.08)" font-size="10.2" font-weight="700" text-anchor="end" fill="#111" >30 K</text>
<line x1="503.50" y1="73.74" x2="526.80" y2="73.74" stroke="#6420d8" stroke-width="1.8"/>
<text x="0" y="0" transform="translate(554.00,77.44) rotate(0) scale(0.94,1.08)" font-size="10.2" font-weight="700" text-anchor="end" fill="#111" >60 K</text>
<line x1="503.50" y1="87.16" x2="526.80" y2="87.16" stroke="#48e010" stroke-width="1.8"/>
<text x="0" y="0" transform="translate(554.00,90.86) rotate(0) scale(0.94,1.08)" font-size="10.2" font-weight="700" text-anchor="end" fill="#111" >90 K</text>
<line x1="503.50" y1="100.58" x2="526.80" y2="100.58" stroke="#d8f030" stroke-width="1.8"/>
<text x="0" y="0" transform="translate(554.00,104.28) rotate(0) scale(0.94,1.08)" font-size="10.2" font-weight="700" text-anchor="end" fill="#111" >120 K</text>
<line x1="503.50" y1="114.00" x2="526.80" y2="114.00" stroke="#ffb820" stroke-width="1.8"/>
<text x="0" y="0" transform="translate(554.00,117.70) rotate(0) scale(0.94,1.08)" font-size="10.2" font-weight="700" text-anchor="end" fill="#111" >150 K</text>
<line x1="503.50" y1="127.42" x2="526.80" y2="127.42" stroke="#ff1020" stroke-width="1.8"/>
<text x="0" y="0" transform="translate(554.00,131.12) rotate(0) scale(0.94,1.08)" font-size="10.2" font-weight="700" text-anchor="end" fill="#111" >200 K</text>
<line x1="503.50" y1="140.84" x2="526.80" y2="140.84" stroke="#ff1020" stroke-width="1.8"/>
<text x="0" y="0" transform="translate(554.00,144.54) rotate(0) scale(0.94,1.08)" font-size="10.2" font-weight="700" text-anchor="end" fill="#111" >250 K</text>
<line x1="503.50" y1="154.26" x2="526.80" y2="154.26" stroke="#981040" stroke-width="1.8"/>
<text x="0" y="0" transform="translate(551.40,157.96) rotate(0) scale(0.94,1.08)" font-size="10.2" font-weight="700" text-anchor="end" fill="#111" >300K</text>
</svg></body></html>
